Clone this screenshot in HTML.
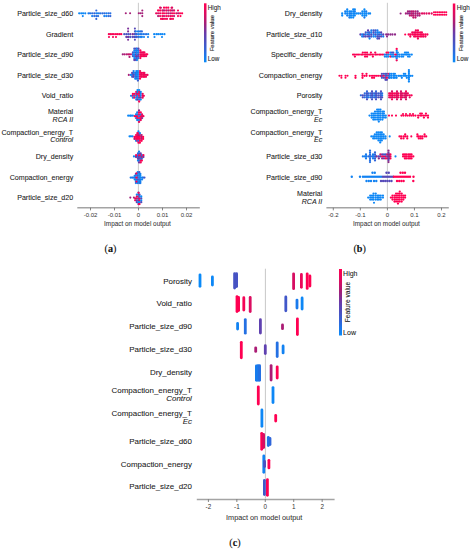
<!DOCTYPE html>
<html><head><meta charset="utf-8"><style>html,body{margin:0;padding:0;background:#fff;width:472px;height:550px;overflow:hidden}svg{display:block}</style></head>
<body><svg width="472" height="550" viewBox="0 0 472 550" font-family="Liberation Sans, sans-serif">
<defs><linearGradient id="cb" x1="0" y1="0" x2="0" y2="1"><stop offset="0.00" stop-color="#ff0052"/><stop offset="0.20" stop-color="#d70e62"/><stop offset="0.35" stop-color="#a0207a"/><stop offset="0.50" stop-color="#6a3aa8"/><stop offset="0.65" stop-color="#4a50c0"/><stop offset="0.80" stop-color="#3066da"/><stop offset="0.90" stop-color="#197aec"/><stop offset="1.00" stop-color="#0a8af8"/></linearGradient></defs>
<rect width="472" height="550" fill="#fff"/>
<text x="73.20" y="16.20" font-size="7.1" text-anchor="end" fill="#202020" stroke="#202020" stroke-width="0.07">Particle_size_d60</text>
<text x="73.20" y="36.64" font-size="7.1" text-anchor="end" fill="#202020" stroke="#202020" stroke-width="0.07">Gradient</text>
<text x="73.20" y="57.08" font-size="7.1" text-anchor="end" fill="#202020" stroke="#202020" stroke-width="0.07">Particle_size_d90</text>
<text x="73.20" y="77.52" font-size="7.1" text-anchor="end" fill="#202020" stroke="#202020" stroke-width="0.07">Particle_size_d30</text>
<text x="73.20" y="97.96" font-size="7.1" text-anchor="end" fill="#202020" stroke="#202020" stroke-width="0.07">Void_ratio</text>
<text x="73.20" y="114.10" font-size="7.1" text-anchor="end" fill="#202020" stroke="#202020" stroke-width="0.07">Material</text>
<text x="73.20" y="122.00" font-size="7.1" text-anchor="end" fill="#202020" stroke="#202020" stroke-width="0.07" font-style="italic">RCA II</text>
<text x="73.20" y="134.54" font-size="7.1" text-anchor="end" fill="#202020" stroke="#202020" stroke-width="0.07">Compaction_energy_T</text>
<text x="73.20" y="142.44" font-size="7.1" text-anchor="end" fill="#202020" stroke="#202020" stroke-width="0.07" font-style="italic">Control</text>
<text x="73.20" y="159.28" font-size="7.1" text-anchor="end" fill="#202020" stroke="#202020" stroke-width="0.07">Dry_density</text>
<text x="73.20" y="179.72" font-size="7.1" text-anchor="end" fill="#202020" stroke="#202020" stroke-width="0.07">Compaction_energy</text>
<text x="73.20" y="200.16" font-size="7.1" text-anchor="end" fill="#202020" stroke="#202020" stroke-width="0.07">Particle_size_d20</text>
<line x1="138.4" y1="2.8" x2="138.4" y2="207.5" stroke="#c4c4c4" stroke-width="0.9"/>
<line x1="77.3" y1="207.8" x2="199.8" y2="207.8" stroke="#a4a4a4" stroke-width="1.5"/>
<line x1="90.50" y1="207.8" x2="90.50" y2="210.4" stroke="#555" stroke-width="0.7"/>
<text x="90.50" y="216.70" font-size="6" text-anchor="middle" fill="#333">-0.02</text>
<line x1="114.50" y1="207.8" x2="114.50" y2="210.4" stroke="#555" stroke-width="0.7"/>
<text x="114.50" y="216.70" font-size="6" text-anchor="middle" fill="#333">-0.01</text>
<line x1="138.50" y1="207.8" x2="138.50" y2="210.4" stroke="#555" stroke-width="0.7"/>
<text x="138.50" y="216.70" font-size="6" text-anchor="middle" fill="#333">0</text>
<line x1="162.50" y1="207.8" x2="162.50" y2="210.4" stroke="#555" stroke-width="0.7"/>
<text x="162.50" y="216.70" font-size="6" text-anchor="middle" fill="#333">0.01</text>
<line x1="186.50" y1="207.8" x2="186.50" y2="210.4" stroke="#555" stroke-width="0.7"/>
<text x="186.50" y="216.70" font-size="6" text-anchor="middle" fill="#333">0.02</text>
<text x="137.50" y="226.20" font-size="6.4" text-anchor="middle" fill="#333" stroke="#333" stroke-width="0.05">Impact on model output</text>
<rect x="204" y="3.3" width="2.5" height="59.0" fill="url(#cb)"/>
<text x="207.80" y="9.60" font-size="6.3" text-anchor="start" fill="#202020" stroke="#202020" stroke-width="0.07">High</text>
<text x="207.80" y="61.20" font-size="6.3" text-anchor="start" fill="#202020" stroke="#202020" stroke-width="0.07">Low</text>
<text x="0" y="0" font-size="5.95" text-anchor="middle" fill="#222" stroke="#222" stroke-width="0.1" transform="translate(213.9,33.2) rotate(-90)">Feature value</text>
<circle cx="79.21" cy="13.30" r="1.15" fill="#0d87f6"/>
<circle cx="81.25" cy="13.30" r="1.15" fill="#0d87f6"/>
<circle cx="83.09" cy="13.30" r="1.15" fill="#0d87f6"/>
<circle cx="85.23" cy="13.30" r="1.15" fill="#0d87f6"/>
<circle cx="82.80" cy="16.10" r="1.05" fill="#0e85f4"/>
<circle cx="88.50" cy="13.30" r="1.15" fill="#187bed"/>
<circle cx="90.09" cy="13.30" r="1.15" fill="#2173e6"/>
<circle cx="92.17" cy="13.30" r="1.15" fill="#276ee1"/>
<circle cx="92.17" cy="16.10" r="1.15" fill="#1380f1"/>
<circle cx="94.33" cy="13.30" r="1.15" fill="#3760d3"/>
<circle cx="94.33" cy="16.10" r="1.15" fill="#2b6bde"/>
<circle cx="96.34" cy="13.30" r="1.15" fill="#1380f1"/>
<circle cx="96.34" cy="16.10" r="1.15" fill="#286de0"/>
<circle cx="98.07" cy="13.30" r="1.15" fill="#187bed"/>
<circle cx="98.07" cy="16.10" r="1.15" fill="#276ee1"/>
<circle cx="100.12" cy="13.30" r="1.15" fill="#2173e6"/>
<circle cx="102.32" cy="13.30" r="1.15" fill="#286de0"/>
<circle cx="104.33" cy="13.30" r="1.15" fill="#2d69dc"/>
<circle cx="104.33" cy="16.10" r="1.15" fill="#157ff0"/>
<circle cx="106.34" cy="13.30" r="1.15" fill="#177ced"/>
<circle cx="106.34" cy="16.10" r="1.15" fill="#147ff0"/>
<circle cx="108.41" cy="13.30" r="1.15" fill="#276de1"/>
<circle cx="108.41" cy="16.10" r="1.15" fill="#2a6bdf"/>
<circle cx="110.30" cy="13.30" r="1.15" fill="#266fe2"/>
<circle cx="110.30" cy="16.10" r="1.15" fill="#3165d9"/>
<circle cx="96.30" cy="10.50" r="1.05" fill="#3066da"/>
<circle cx="96.30" cy="18.90" r="1.05" fill="#3066da"/>
<circle cx="125.80" cy="13.30" r="1.05" fill="#a41f78"/>
<circle cx="130.10" cy="13.30" r="1.05" fill="#a41f78"/>
<circle cx="138.80" cy="13.30" r="1.05" fill="#a41f78"/>
<circle cx="140.50" cy="13.30" r="1.05" fill="#a41f78"/>
<circle cx="142.30" cy="13.30" r="1.05" fill="#a41f78"/>
<circle cx="142.30" cy="10.50" r="1.05" fill="#a41f78"/>
<circle cx="142.30" cy="16.10" r="1.05" fill="#a41f78"/>
<circle cx="156.18" cy="13.30" r="1.15" fill="#eb075a"/>
<circle cx="158.10" cy="13.30" r="1.15" fill="#d70e62"/>
<circle cx="158.10" cy="16.10" r="1.15" fill="#b21a72"/>
<circle cx="158.10" cy="10.50" r="1.15" fill="#ff0052"/>
<circle cx="160.10" cy="13.30" r="1.15" fill="#eb075a"/>
<circle cx="160.10" cy="10.50" r="1.15" fill="#ff0052"/>
<circle cx="160.10" cy="16.10" r="1.15" fill="#eb075a"/>
<circle cx="160.10" cy="7.70" r="1.15" fill="#ff0052"/>
<circle cx="162.44" cy="13.30" r="1.15" fill="#ff0052"/>
<circle cx="162.44" cy="16.10" r="1.15" fill="#ff0052"/>
<circle cx="162.44" cy="10.50" r="1.15" fill="#d70e62"/>
<circle cx="162.44" cy="18.90" r="1.15" fill="#eb075a"/>
<circle cx="164.03" cy="13.30" r="1.15" fill="#ff0052"/>
<circle cx="164.03" cy="10.50" r="1.15" fill="#b21a72"/>
<circle cx="164.03" cy="16.10" r="1.15" fill="#b21a72"/>
<circle cx="164.03" cy="7.70" r="1.15" fill="#ff0052"/>
<circle cx="166.24" cy="13.30" r="1.15" fill="#eb075a"/>
<circle cx="166.24" cy="10.50" r="1.15" fill="#eb075a"/>
<circle cx="166.24" cy="16.10" r="1.15" fill="#ff0052"/>
<circle cx="166.24" cy="7.70" r="1.15" fill="#ff0052"/>
<circle cx="168.24" cy="13.30" r="1.15" fill="#b21a72"/>
<circle cx="168.24" cy="10.50" r="1.15" fill="#b21a72"/>
<circle cx="168.24" cy="16.10" r="1.15" fill="#eb075a"/>
<circle cx="168.24" cy="7.70" r="1.15" fill="#ff0052"/>
<circle cx="170.30" cy="13.30" r="1.15" fill="#b21a72"/>
<circle cx="170.30" cy="16.10" r="1.15" fill="#eb075a"/>
<circle cx="170.30" cy="10.50" r="1.15" fill="#ff0052"/>
<circle cx="170.30" cy="18.90" r="1.15" fill="#ff0052"/>
<circle cx="172.09" cy="13.30" r="1.15" fill="#eb075a"/>
<circle cx="172.09" cy="10.50" r="1.15" fill="#b21a72"/>
<circle cx="172.09" cy="16.10" r="1.15" fill="#ff0052"/>
<circle cx="172.09" cy="7.70" r="1.15" fill="#eb075a"/>
<circle cx="174.03" cy="13.30" r="1.15" fill="#ff0052"/>
<circle cx="174.03" cy="16.10" r="1.15" fill="#b21a72"/>
<circle cx="174.03" cy="10.50" r="1.15" fill="#d70e62"/>
<circle cx="176.33" cy="13.30" r="1.15" fill="#d70e62"/>
<circle cx="178.15" cy="13.30" r="1.15" fill="#b21a72"/>
<circle cx="180.03" cy="13.30" r="1.15" fill="#ff0052"/>
<circle cx="182.09" cy="13.30" r="1.15" fill="#ff0052"/>
<circle cx="160.90" cy="7.70" r="1.05" fill="#c5146a"/>
<circle cx="171.50" cy="7.70" r="1.05" fill="#d70e62"/>
<circle cx="161.00" cy="18.90" r="1.05" fill="#ff0052"/>
<circle cx="163.00" cy="18.90" r="1.05" fill="#eb075a"/>
<circle cx="165.00" cy="18.90" r="1.05" fill="#ff0052"/>
<circle cx="167.00" cy="18.90" r="1.05" fill="#eb075a"/>
<circle cx="171.00" cy="18.90" r="1.05" fill="#eb075a"/>
<circle cx="173.00" cy="18.90" r="1.05" fill="#ff0052"/>
<circle cx="178.00" cy="10.50" r="1.05" fill="#ff0052"/>
<circle cx="178.00" cy="16.10" r="1.05" fill="#ff0052"/>
<circle cx="180.50" cy="16.10" r="1.05" fill="#ff0052"/>
<circle cx="108.89" cy="34.20" r="1.15" fill="#f30457"/>
<circle cx="110.34" cy="34.20" r="1.15" fill="#fa0254"/>
<circle cx="112.06" cy="34.20" r="1.15" fill="#f50456"/>
<circle cx="113.85" cy="34.20" r="1.15" fill="#f80255"/>
<circle cx="115.95" cy="34.20" r="1.15" fill="#fe0052"/>
<circle cx="117.80" cy="34.20" r="1.15" fill="#f70355"/>
<circle cx="119.69" cy="34.20" r="1.15" fill="#f70355"/>
<circle cx="121.25" cy="34.20" r="1.15" fill="#fa0254"/>
<circle cx="109.00" cy="37.00" r="1.05" fill="#f90254"/>
<circle cx="113.00" cy="37.00" r="1.05" fill="#f90254"/>
<circle cx="116.00" cy="37.00" r="1.05" fill="#f90254"/>
<circle cx="124.28" cy="34.20" r="1.15" fill="#4753c3"/>
<circle cx="126.35" cy="34.20" r="1.15" fill="#4f4dbc"/>
<circle cx="126.35" cy="37.00" r="1.15" fill="#6041b0"/>
<circle cx="128.28" cy="34.20" r="1.15" fill="#4157c9"/>
<circle cx="128.28" cy="37.00" r="1.15" fill="#4e4dbd"/>
<circle cx="130.30" cy="34.20" r="1.15" fill="#623fae"/>
<circle cx="130.30" cy="37.00" r="1.15" fill="#4356c7"/>
<circle cx="132.69" cy="34.20" r="1.15" fill="#852d91"/>
<circle cx="132.69" cy="37.00" r="1.15" fill="#4e4ebd"/>
<circle cx="134.38" cy="34.20" r="1.15" fill="#6140af"/>
<circle cx="134.38" cy="37.00" r="1.15" fill="#623fae"/>
<circle cx="136.31" cy="34.20" r="1.15" fill="#ac1c75"/>
<circle cx="136.31" cy="37.00" r="1.15" fill="#c4146a"/>
<circle cx="128.10" cy="28.60" r="1.05" fill="#7c3199"/>
<circle cx="128.10" cy="31.40" r="1.05" fill="#7c3199"/>
<circle cx="128.10" cy="37.00" r="1.05" fill="#7c3199"/>
<circle cx="128.10" cy="39.80" r="1.05" fill="#7c3199"/>
<circle cx="134.90" cy="28.60" r="1.05" fill="#5549b8"/>
<circle cx="134.90" cy="31.40" r="1.05" fill="#5549b8"/>
<circle cx="134.90" cy="37.00" r="1.05" fill="#5549b8"/>
<circle cx="134.90" cy="39.80" r="1.05" fill="#5549b8"/>
<circle cx="135.79" cy="34.20" r="1.15" fill="#2470e3"/>
<circle cx="135.79" cy="37.00" r="1.15" fill="#2470e3"/>
<circle cx="135.79" cy="31.40" r="1.15" fill="#187bed"/>
<circle cx="138.10" cy="34.20" r="1.15" fill="#1083f3"/>
<circle cx="138.10" cy="37.00" r="1.15" fill="#2e68dc"/>
<circle cx="138.10" cy="31.40" r="1.15" fill="#157eef"/>
<circle cx="140.10" cy="34.20" r="1.15" fill="#2570e3"/>
<circle cx="140.10" cy="37.00" r="1.15" fill="#1380f1"/>
<circle cx="140.10" cy="31.40" r="1.15" fill="#2074e7"/>
<circle cx="141.80" cy="34.20" r="1.15" fill="#1a79eb"/>
<circle cx="141.80" cy="31.40" r="1.15" fill="#2c6add"/>
<circle cx="141.80" cy="37.00" r="1.15" fill="#157fef"/>
<circle cx="143.86" cy="34.20" r="1.15" fill="#1f75e7"/>
<circle cx="146.06" cy="34.20" r="1.15" fill="#276ee1"/>
<circle cx="148.16" cy="34.20" r="1.15" fill="#1084f3"/>
<circle cx="144.00" cy="37.00" r="1.05" fill="#1282f2"/>
<circle cx="148.00" cy="37.00" r="1.05" fill="#1282f2"/>
<circle cx="154.20" cy="34.20" r="1.15" fill="#0d87f6"/>
<circle cx="156.44" cy="34.20" r="1.15" fill="#0d87f6"/>
<circle cx="158.19" cy="34.20" r="1.15" fill="#0d87f6"/>
<circle cx="160.30" cy="34.20" r="1.15" fill="#0d87f6"/>
<circle cx="162.17" cy="34.20" r="1.15" fill="#0d87f6"/>
<circle cx="164.43" cy="34.20" r="1.15" fill="#0d87f6"/>
<circle cx="154.50" cy="37.00" r="1.05" fill="#0d87f6"/>
<circle cx="162.00" cy="37.00" r="1.05" fill="#0d87f6"/>
<circle cx="122.79" cy="54.30" r="1.15" fill="#9e217b"/>
<circle cx="124.65" cy="54.30" r="1.15" fill="#b11a73"/>
<circle cx="126.84" cy="54.30" r="1.15" fill="#b11a73"/>
<circle cx="128.48" cy="54.30" r="1.15" fill="#cb1267"/>
<circle cx="130.01" cy="54.30" r="1.15" fill="#c71369"/>
<circle cx="132.13" cy="54.30" r="1.15" fill="#cf1166"/>
<circle cx="129.50" cy="56.90" r="1.05" fill="#ab1c75"/>
<circle cx="132.96" cy="54.30" r="1.15" fill="#0a8af8"/>
<circle cx="132.96" cy="52.40" r="1.15" fill="#4157c9"/>
<circle cx="132.96" cy="56.20" r="1.15" fill="#4157c9"/>
<circle cx="134.34" cy="54.30" r="1.15" fill="#1282f2"/>
<circle cx="134.34" cy="56.20" r="1.15" fill="#1282f2"/>
<circle cx="134.34" cy="52.40" r="1.15" fill="#1282f2"/>
<circle cx="134.34" cy="58.10" r="1.15" fill="#0a8af8"/>
<circle cx="134.34" cy="50.50" r="1.15" fill="#1282f2"/>
<circle cx="134.34" cy="60.00" r="1.15" fill="#5f41b0"/>
<circle cx="134.34" cy="48.60" r="1.15" fill="#4157c9"/>
<circle cx="135.98" cy="54.30" r="1.15" fill="#5f41b0"/>
<circle cx="135.98" cy="56.20" r="1.15" fill="#5f41b0"/>
<circle cx="135.98" cy="52.40" r="1.15" fill="#4157c9"/>
<circle cx="135.98" cy="58.10" r="1.15" fill="#197aec"/>
<circle cx="135.98" cy="50.50" r="1.15" fill="#1282f2"/>
<circle cx="135.98" cy="60.00" r="1.15" fill="#5f41b0"/>
<circle cx="135.98" cy="48.60" r="1.15" fill="#5f41b0"/>
<circle cx="136.98" cy="54.30" r="1.15" fill="#0a8af8"/>
<circle cx="136.98" cy="56.20" r="1.15" fill="#5f41b0"/>
<circle cx="136.98" cy="52.40" r="1.15" fill="#1282f2"/>
<circle cx="136.98" cy="58.10" r="1.15" fill="#4157c9"/>
<circle cx="136.98" cy="50.50" r="1.15" fill="#1282f2"/>
<circle cx="136.98" cy="60.00" r="1.15" fill="#1282f2"/>
<circle cx="136.98" cy="48.60" r="1.15" fill="#0a8af8"/>
<circle cx="138.45" cy="54.30" r="1.15" fill="#5f41b0"/>
<circle cx="138.45" cy="52.40" r="1.15" fill="#1282f2"/>
<circle cx="138.45" cy="56.20" r="1.15" fill="#5f41b0"/>
<circle cx="138.45" cy="50.50" r="1.15" fill="#197aec"/>
<circle cx="138.45" cy="58.10" r="1.15" fill="#197aec"/>
<circle cx="138.45" cy="48.60" r="1.15" fill="#5f41b0"/>
<circle cx="140.35" cy="54.30" r="1.15" fill="#e8085b"/>
<circle cx="140.35" cy="56.20" r="1.15" fill="#f90254"/>
<circle cx="140.35" cy="52.40" r="1.15" fill="#fd0153"/>
<circle cx="140.35" cy="58.10" r="1.15" fill="#f70355"/>
<circle cx="140.35" cy="50.50" r="1.15" fill="#fb0254"/>
<circle cx="141.81" cy="54.30" r="1.15" fill="#f40456"/>
<circle cx="141.81" cy="56.20" r="1.15" fill="#f40457"/>
<circle cx="141.81" cy="52.40" r="1.15" fill="#e7085b"/>
<circle cx="143.16" cy="54.30" r="1.15" fill="#f60356"/>
<circle cx="143.16" cy="56.20" r="1.15" fill="#fa0254"/>
<circle cx="143.16" cy="52.40" r="1.15" fill="#eb075a"/>
<circle cx="144.38" cy="54.30" r="1.15" fill="#f40456"/>
<circle cx="144.38" cy="56.20" r="1.15" fill="#ef0658"/>
<circle cx="144.38" cy="52.40" r="1.15" fill="#f30457"/>
<circle cx="146.03" cy="54.30" r="1.15" fill="#fc0153"/>
<circle cx="146.03" cy="56.20" r="1.15" fill="#e8085b"/>
<circle cx="147.21" cy="54.30" r="1.15" fill="#fa0254"/>
<circle cx="128.80" cy="74.90" r="1.05" fill="#b21a72"/>
<circle cx="130.80" cy="74.90" r="1.15" fill="#0a8af8"/>
<circle cx="132.17" cy="74.90" r="1.15" fill="#197aec"/>
<circle cx="132.17" cy="76.80" r="1.15" fill="#395fd1"/>
<circle cx="132.17" cy="73.00" r="1.15" fill="#6a3aa8"/>
<circle cx="133.62" cy="74.90" r="1.15" fill="#6a3aa8"/>
<circle cx="133.62" cy="73.00" r="1.15" fill="#1282f2"/>
<circle cx="133.62" cy="76.80" r="1.15" fill="#6a3aa8"/>
<circle cx="133.62" cy="71.10" r="1.15" fill="#197aec"/>
<circle cx="135.25" cy="74.90" r="1.15" fill="#395fd1"/>
<circle cx="135.25" cy="76.80" r="1.15" fill="#1282f2"/>
<circle cx="135.25" cy="73.00" r="1.15" fill="#395fd1"/>
<circle cx="135.25" cy="78.70" r="1.15" fill="#0a8af8"/>
<circle cx="136.34" cy="74.90" r="1.15" fill="#0a8af8"/>
<circle cx="136.34" cy="73.00" r="1.15" fill="#1282f2"/>
<circle cx="136.34" cy="76.80" r="1.15" fill="#395fd1"/>
<circle cx="136.34" cy="71.10" r="1.15" fill="#0a8af8"/>
<circle cx="136.34" cy="78.70" r="1.15" fill="#1282f2"/>
<circle cx="137.90" cy="74.90" r="1.15" fill="#1282f2"/>
<circle cx="137.90" cy="76.80" r="1.15" fill="#197aec"/>
<circle cx="137.90" cy="73.00" r="1.15" fill="#1282f2"/>
<circle cx="137.90" cy="78.70" r="1.15" fill="#197aec"/>
<circle cx="137.90" cy="71.10" r="1.15" fill="#1282f2"/>
<circle cx="137.90" cy="80.60" r="1.15" fill="#395fd1"/>
<circle cx="140.03" cy="74.90" r="1.15" fill="#f10558"/>
<circle cx="140.03" cy="76.80" r="1.15" fill="#f30457"/>
<circle cx="140.03" cy="73.00" r="1.15" fill="#ff0052"/>
<circle cx="140.03" cy="78.70" r="1.15" fill="#fb0154"/>
<circle cx="140.03" cy="71.10" r="1.15" fill="#eb075a"/>
<circle cx="141.56" cy="74.90" r="1.15" fill="#ef0658"/>
<circle cx="141.56" cy="73.00" r="1.15" fill="#ec075a"/>
<circle cx="141.56" cy="76.80" r="1.15" fill="#ef0659"/>
<circle cx="143.13" cy="74.90" r="1.15" fill="#ef0658"/>
<circle cx="143.13" cy="76.80" r="1.15" fill="#f20557"/>
<circle cx="143.13" cy="73.00" r="1.15" fill="#f80255"/>
<circle cx="144.33" cy="74.90" r="1.15" fill="#f30457"/>
<circle cx="144.33" cy="73.00" r="1.15" fill="#e9085b"/>
<circle cx="144.33" cy="76.80" r="1.15" fill="#ff0052"/>
<circle cx="145.97" cy="74.90" r="1.15" fill="#e9085b"/>
<circle cx="145.97" cy="76.80" r="1.15" fill="#ee0659"/>
<circle cx="147.44" cy="74.90" r="1.15" fill="#ed0659"/>
<circle cx="131.08" cy="95.80" r="1.15" fill="#1282f2"/>
<circle cx="132.89" cy="95.80" r="1.15" fill="#ff0052"/>
<circle cx="132.89" cy="93.90" r="1.15" fill="#ff0052"/>
<circle cx="132.89" cy="97.70" r="1.15" fill="#1282f2"/>
<circle cx="134.35" cy="95.80" r="1.15" fill="#1282f2"/>
<circle cx="134.35" cy="93.90" r="1.15" fill="#ff0052"/>
<circle cx="134.35" cy="97.70" r="1.15" fill="#ff0052"/>
<circle cx="136.27" cy="95.80" r="1.15" fill="#eb075a"/>
<circle cx="136.27" cy="97.70" r="1.15" fill="#0a8af8"/>
<circle cx="136.27" cy="93.90" r="1.15" fill="#6a3aa8"/>
<circle cx="136.27" cy="99.60" r="1.15" fill="#0a8af8"/>
<circle cx="136.27" cy="92.00" r="1.15" fill="#ff0052"/>
<circle cx="137.55" cy="95.80" r="1.15" fill="#0a8af8"/>
<circle cx="137.55" cy="93.90" r="1.15" fill="#ff0052"/>
<circle cx="137.55" cy="97.70" r="1.15" fill="#1282f2"/>
<circle cx="137.55" cy="92.00" r="1.15" fill="#0a8af8"/>
<circle cx="137.55" cy="99.60" r="1.15" fill="#6a3aa8"/>
<circle cx="137.55" cy="90.10" r="1.15" fill="#0a8af8"/>
<circle cx="139.17" cy="95.80" r="1.15" fill="#ff0052"/>
<circle cx="139.17" cy="93.90" r="1.15" fill="#eb075a"/>
<circle cx="139.17" cy="97.70" r="1.15" fill="#6a3aa8"/>
<circle cx="139.17" cy="92.00" r="1.15" fill="#ff0052"/>
<circle cx="139.17" cy="99.60" r="1.15" fill="#1282f2"/>
<circle cx="139.17" cy="90.10" r="1.15" fill="#0a8af8"/>
<circle cx="139.17" cy="101.50" r="1.15" fill="#ff0052"/>
<circle cx="140.73" cy="95.80" r="1.15" fill="#1282f2"/>
<circle cx="140.73" cy="97.70" r="1.15" fill="#6a3aa8"/>
<circle cx="140.73" cy="93.90" r="1.15" fill="#0a8af8"/>
<circle cx="140.73" cy="99.60" r="1.15" fill="#1282f2"/>
<circle cx="140.73" cy="92.00" r="1.15" fill="#1282f2"/>
<circle cx="142.66" cy="95.80" r="1.15" fill="#ff0052"/>
<circle cx="142.66" cy="93.90" r="1.15" fill="#eb075a"/>
<circle cx="142.66" cy="97.70" r="1.15" fill="#eb075a"/>
<circle cx="143.80" cy="95.80" r="1.15" fill="#eb075a"/>
<circle cx="128.22" cy="115.70" r="1.15" fill="#0d87f6"/>
<circle cx="130.05" cy="115.70" r="1.15" fill="#0d87f6"/>
<circle cx="131.06" cy="115.70" r="1.15" fill="#0d87f6"/>
<circle cx="132.81" cy="115.70" r="1.15" fill="#0d87f6"/>
<circle cx="134.76" cy="116.20" r="1.15" fill="#ff0052"/>
<circle cx="135.99" cy="116.20" r="1.15" fill="#eb075a"/>
<circle cx="135.99" cy="114.30" r="1.15" fill="#1282f2"/>
<circle cx="135.99" cy="118.10" r="1.15" fill="#1282f2"/>
<circle cx="137.21" cy="116.20" r="1.15" fill="#ff0052"/>
<circle cx="137.21" cy="118.10" r="1.15" fill="#eb075a"/>
<circle cx="137.21" cy="114.30" r="1.15" fill="#1282f2"/>
<circle cx="137.21" cy="120.00" r="1.15" fill="#1282f2"/>
<circle cx="137.21" cy="112.40" r="1.15" fill="#1282f2"/>
<circle cx="139.04" cy="116.20" r="1.15" fill="#1282f2"/>
<circle cx="139.04" cy="114.30" r="1.15" fill="#ff0052"/>
<circle cx="139.04" cy="118.10" r="1.15" fill="#ff0052"/>
<circle cx="139.04" cy="112.40" r="1.15" fill="#ff0052"/>
<circle cx="139.04" cy="120.00" r="1.15" fill="#1282f2"/>
<circle cx="139.04" cy="110.50" r="1.15" fill="#8e2989"/>
<circle cx="139.04" cy="121.90" r="1.15" fill="#eb075a"/>
<circle cx="140.76" cy="116.20" r="1.15" fill="#ff0052"/>
<circle cx="140.76" cy="114.30" r="1.15" fill="#1282f2"/>
<circle cx="140.76" cy="118.10" r="1.15" fill="#ff0052"/>
<circle cx="140.76" cy="112.40" r="1.15" fill="#ff0052"/>
<circle cx="140.76" cy="120.00" r="1.15" fill="#eb075a"/>
<circle cx="142.07" cy="116.20" r="1.15" fill="#eb075a"/>
<circle cx="142.07" cy="114.30" r="1.15" fill="#eb075a"/>
<circle cx="142.07" cy="118.10" r="1.15" fill="#8e2989"/>
<circle cx="143.39" cy="116.20" r="1.15" fill="#eb075a"/>
<circle cx="129.56" cy="136.30" r="1.15" fill="#0d87f6"/>
<circle cx="130.95" cy="136.30" r="1.15" fill="#0d87f6"/>
<circle cx="132.49" cy="136.30" r="1.15" fill="#0d87f6"/>
<circle cx="134.50" cy="137.00" r="1.15" fill="#ff0052"/>
<circle cx="134.50" cy="138.90" r="1.15" fill="#b21a72"/>
<circle cx="136.07" cy="137.00" r="1.15" fill="#eb075a"/>
<circle cx="136.07" cy="138.90" r="1.15" fill="#ff0052"/>
<circle cx="136.07" cy="135.10" r="1.15" fill="#ff0052"/>
<circle cx="136.07" cy="140.80" r="1.15" fill="#1282f2"/>
<circle cx="137.35" cy="137.00" r="1.15" fill="#ff0052"/>
<circle cx="137.35" cy="135.10" r="1.15" fill="#eb075a"/>
<circle cx="137.35" cy="138.90" r="1.15" fill="#eb075a"/>
<circle cx="137.35" cy="133.20" r="1.15" fill="#ff0052"/>
<circle cx="137.35" cy="140.80" r="1.15" fill="#ff0052"/>
<circle cx="138.45" cy="137.00" r="1.15" fill="#ff0052"/>
<circle cx="138.45" cy="138.90" r="1.15" fill="#ff0052"/>
<circle cx="138.45" cy="135.10" r="1.15" fill="#b21a72"/>
<circle cx="138.45" cy="140.80" r="1.15" fill="#1282f2"/>
<circle cx="138.45" cy="133.20" r="1.15" fill="#eb075a"/>
<circle cx="138.45" cy="142.70" r="1.15" fill="#ff0052"/>
<circle cx="138.45" cy="131.30" r="1.15" fill="#1282f2"/>
<circle cx="139.89" cy="137.00" r="1.15" fill="#ff0052"/>
<circle cx="139.89" cy="138.90" r="1.15" fill="#ff0052"/>
<circle cx="139.89" cy="135.10" r="1.15" fill="#b21a72"/>
<circle cx="139.89" cy="140.80" r="1.15" fill="#ff0052"/>
<circle cx="139.89" cy="133.20" r="1.15" fill="#1282f2"/>
<circle cx="139.89" cy="142.70" r="1.15" fill="#ff0052"/>
<circle cx="141.62" cy="137.00" r="1.15" fill="#b21a72"/>
<circle cx="141.62" cy="138.90" r="1.15" fill="#b21a72"/>
<circle cx="141.62" cy="135.10" r="1.15" fill="#b21a72"/>
<circle cx="141.62" cy="140.80" r="1.15" fill="#ff0052"/>
<circle cx="143.10" cy="137.00" r="1.15" fill="#ff0052"/>
<circle cx="143.10" cy="138.90" r="1.15" fill="#ff0052"/>
<circle cx="133.90" cy="156.40" r="1.05" fill="#1282f2"/>
<circle cx="135.60" cy="156.40" r="1.05" fill="#1282f2"/>
<circle cx="136.13" cy="157.00" r="1.15" fill="#6a3aa8"/>
<circle cx="136.13" cy="155.19" r="1.15" fill="#ff0052"/>
<circle cx="138.00" cy="157.00" r="1.15" fill="#3066da"/>
<circle cx="138.00" cy="158.81" r="1.15" fill="#6a3aa8"/>
<circle cx="138.00" cy="155.19" r="1.15" fill="#3066da"/>
<circle cx="138.00" cy="160.61" r="1.15" fill="#1282f2"/>
<circle cx="138.00" cy="153.39" r="1.15" fill="#3066da"/>
<circle cx="139.05" cy="157.00" r="1.15" fill="#6a3aa8"/>
<circle cx="139.05" cy="155.19" r="1.15" fill="#ff0052"/>
<circle cx="139.05" cy="158.81" r="1.15" fill="#6a3aa8"/>
<circle cx="139.05" cy="153.39" r="1.15" fill="#3066da"/>
<circle cx="139.05" cy="160.61" r="1.15" fill="#1282f2"/>
<circle cx="139.05" cy="151.59" r="1.15" fill="#1282f2"/>
<circle cx="139.05" cy="162.41" r="1.15" fill="#6a3aa8"/>
<circle cx="140.70" cy="157.00" r="1.15" fill="#3066da"/>
<circle cx="140.70" cy="158.81" r="1.15" fill="#3066da"/>
<circle cx="140.70" cy="155.19" r="1.15" fill="#ff0052"/>
<circle cx="140.70" cy="160.61" r="1.15" fill="#eb075a"/>
<circle cx="140.70" cy="153.39" r="1.15" fill="#6a3aa8"/>
<circle cx="140.70" cy="162.41" r="1.15" fill="#eb075a"/>
<circle cx="141.84" cy="157.00" r="1.15" fill="#b21a72"/>
<circle cx="141.84" cy="158.81" r="1.15" fill="#3066da"/>
<circle cx="141.84" cy="155.19" r="1.15" fill="#3066da"/>
<circle cx="141.84" cy="160.61" r="1.15" fill="#ff0052"/>
<circle cx="143.40" cy="157.00" r="1.15" fill="#6a3aa8"/>
<circle cx="143.40" cy="155.19" r="1.15" fill="#ff0052"/>
<circle cx="130.71" cy="177.60" r="1.15" fill="#197aec"/>
<circle cx="132.13" cy="177.60" r="1.15" fill="#197aec"/>
<circle cx="133.29" cy="177.60" r="1.15" fill="#197aec"/>
<circle cx="134.70" cy="177.60" r="1.15" fill="#1282f2"/>
<circle cx="134.70" cy="175.79" r="1.15" fill="#1282f2"/>
<circle cx="134.70" cy="179.41" r="1.15" fill="#1282f2"/>
<circle cx="135.91" cy="177.60" r="1.15" fill="#4157c9"/>
<circle cx="135.91" cy="179.41" r="1.15" fill="#197aec"/>
<circle cx="135.91" cy="175.79" r="1.15" fill="#0a8af8"/>
<circle cx="135.91" cy="181.21" r="1.15" fill="#1282f2"/>
<circle cx="135.91" cy="173.99" r="1.15" fill="#4157c9"/>
<circle cx="135.91" cy="183.01" r="1.15" fill="#197aec"/>
<circle cx="137.73" cy="177.60" r="1.15" fill="#4157c9"/>
<circle cx="137.73" cy="175.79" r="1.15" fill="#4157c9"/>
<circle cx="137.73" cy="179.41" r="1.15" fill="#4157c9"/>
<circle cx="137.73" cy="173.99" r="1.15" fill="#0a8af8"/>
<circle cx="137.73" cy="181.21" r="1.15" fill="#1282f2"/>
<circle cx="137.73" cy="172.19" r="1.15" fill="#1282f2"/>
<circle cx="137.73" cy="183.01" r="1.15" fill="#197aec"/>
<circle cx="139.29" cy="177.60" r="1.15" fill="#0a8af8"/>
<circle cx="139.29" cy="175.79" r="1.15" fill="#197aec"/>
<circle cx="139.29" cy="179.41" r="1.15" fill="#4157c9"/>
<circle cx="139.29" cy="173.99" r="1.15" fill="#0a8af8"/>
<circle cx="139.29" cy="181.21" r="1.15" fill="#1282f2"/>
<circle cx="139.29" cy="172.19" r="1.15" fill="#4157c9"/>
<circle cx="139.29" cy="183.01" r="1.15" fill="#197aec"/>
<circle cx="140.33" cy="177.60" r="1.15" fill="#0a8af8"/>
<circle cx="140.33" cy="179.41" r="1.15" fill="#1282f2"/>
<circle cx="140.33" cy="175.79" r="1.15" fill="#0a8af8"/>
<circle cx="140.33" cy="181.21" r="1.15" fill="#1282f2"/>
<circle cx="140.33" cy="173.99" r="1.15" fill="#1282f2"/>
<circle cx="140.33" cy="183.01" r="1.15" fill="#197aec"/>
<circle cx="142.07" cy="177.60" r="1.15" fill="#1282f2"/>
<circle cx="142.07" cy="179.41" r="1.15" fill="#1282f2"/>
<circle cx="143.07" cy="177.60" r="1.15" fill="#197aec"/>
<circle cx="144.44" cy="177.60" r="1.15" fill="#4157c9"/>
<circle cx="136.50" cy="173.40" r="1.05" fill="#ff0052"/>
<circle cx="136.50" cy="177.60" r="1.05" fill="#ff0052"/>
<circle cx="136.50" cy="181.60" r="1.05" fill="#ff0052"/>
<circle cx="130.30" cy="197.60" r="1.05" fill="#a0207a"/>
<circle cx="133.90" cy="197.60" r="1.05" fill="#a0207a"/>
<circle cx="135.21" cy="198.40" r="1.15" fill="#eb075a"/>
<circle cx="135.21" cy="200.30" r="1.15" fill="#eb075a"/>
<circle cx="136.84" cy="198.40" r="1.15" fill="#eb075a"/>
<circle cx="136.84" cy="200.30" r="1.15" fill="#5549b8"/>
<circle cx="136.84" cy="196.50" r="1.15" fill="#eb075a"/>
<circle cx="136.84" cy="202.20" r="1.15" fill="#5549b8"/>
<circle cx="136.84" cy="194.60" r="1.15" fill="#0a8af8"/>
<circle cx="138.50" cy="198.40" r="1.15" fill="#5549b8"/>
<circle cx="138.50" cy="200.30" r="1.15" fill="#5549b8"/>
<circle cx="138.50" cy="196.50" r="1.15" fill="#eb075a"/>
<circle cx="138.50" cy="202.20" r="1.15" fill="#0a8af8"/>
<circle cx="138.50" cy="194.60" r="1.15" fill="#1282f2"/>
<circle cx="138.50" cy="204.10" r="1.15" fill="#0a8af8"/>
<circle cx="138.50" cy="192.70" r="1.15" fill="#5549b8"/>
<circle cx="139.55" cy="198.40" r="1.15" fill="#eb075a"/>
<circle cx="139.55" cy="200.30" r="1.15" fill="#eb075a"/>
<circle cx="139.55" cy="196.50" r="1.15" fill="#197aec"/>
<circle cx="139.55" cy="202.20" r="1.15" fill="#0a8af8"/>
<circle cx="139.55" cy="194.60" r="1.15" fill="#5549b8"/>
<circle cx="139.55" cy="204.10" r="1.15" fill="#eb075a"/>
<circle cx="141.25" cy="198.40" r="1.15" fill="#5549b8"/>
<circle cx="141.25" cy="200.30" r="1.15" fill="#0a8af8"/>
<circle cx="141.25" cy="196.50" r="1.15" fill="#0a8af8"/>
<circle cx="141.25" cy="202.20" r="1.15" fill="#5549b8"/>
<circle cx="138.60" cy="192.70" r="1.05" fill="#ff0052"/>
<circle cx="138.60" cy="204.10" r="1.05" fill="#ff0052"/>
<text x="110.50" y="251.60" font-size="10.2" text-anchor="middle" fill="#111" stroke="#111" stroke-width="0.12" font-family="Liberation Serif">(<tspan font-weight="bold">a</tspan>)</text>
<text x="322.30" y="16.20" font-size="7.1" text-anchor="end" fill="#202020" stroke="#202020" stroke-width="0.07">Dry_density</text>
<text x="322.30" y="36.64" font-size="7.1" text-anchor="end" fill="#202020" stroke="#202020" stroke-width="0.07">Particle_size_d10</text>
<text x="322.30" y="57.08" font-size="7.1" text-anchor="end" fill="#202020" stroke="#202020" stroke-width="0.07">Specific_density</text>
<text x="322.30" y="77.52" font-size="7.1" text-anchor="end" fill="#202020" stroke="#202020" stroke-width="0.07">Compaction_energy</text>
<text x="322.30" y="97.96" font-size="7.1" text-anchor="end" fill="#202020" stroke="#202020" stroke-width="0.07">Porosity</text>
<text x="322.30" y="114.10" font-size="7.1" text-anchor="end" fill="#202020" stroke="#202020" stroke-width="0.07">Compaction_energy_T</text>
<text x="322.30" y="122.00" font-size="7.1" text-anchor="end" fill="#202020" stroke="#202020" stroke-width="0.07" font-style="italic">Ec</text>
<text x="322.30" y="134.54" font-size="7.1" text-anchor="end" fill="#202020" stroke="#202020" stroke-width="0.07">Compaction_energy_T</text>
<text x="322.30" y="142.44" font-size="7.1" text-anchor="end" fill="#202020" stroke="#202020" stroke-width="0.07" font-style="italic">Ec</text>
<text x="322.30" y="159.28" font-size="7.1" text-anchor="end" fill="#202020" stroke="#202020" stroke-width="0.07">Particle_size_d30</text>
<text x="322.30" y="179.72" font-size="7.1" text-anchor="end" fill="#202020" stroke="#202020" stroke-width="0.07">Particle_size_d90</text>
<text x="322.30" y="195.86" font-size="7.1" text-anchor="end" fill="#202020" stroke="#202020" stroke-width="0.07">Material</text>
<text x="322.30" y="203.76" font-size="7.1" text-anchor="end" fill="#202020" stroke="#202020" stroke-width="0.07" font-style="italic">RCA II</text>
<line x1="387.4" y1="2.8" x2="387.4" y2="207.5" stroke="#c4c4c4" stroke-width="0.9"/>
<line x1="326.4" y1="207.8" x2="448.8" y2="207.8" stroke="#a4a4a4" stroke-width="1.5"/>
<line x1="333.30" y1="207.8" x2="333.30" y2="210.4" stroke="#555" stroke-width="0.7"/>
<text x="333.30" y="216.70" font-size="6" text-anchor="middle" fill="#333">-0.2</text>
<line x1="360.35" y1="207.8" x2="360.35" y2="210.4" stroke="#555" stroke-width="0.7"/>
<text x="360.35" y="216.70" font-size="6" text-anchor="middle" fill="#333">-0.1</text>
<line x1="387.40" y1="207.8" x2="387.40" y2="210.4" stroke="#555" stroke-width="0.7"/>
<text x="387.40" y="216.70" font-size="6" text-anchor="middle" fill="#333">0</text>
<line x1="414.45" y1="207.8" x2="414.45" y2="210.4" stroke="#555" stroke-width="0.7"/>
<text x="414.45" y="216.70" font-size="6" text-anchor="middle" fill="#333">0.1</text>
<line x1="441.50" y1="207.8" x2="441.50" y2="210.4" stroke="#555" stroke-width="0.7"/>
<text x="441.50" y="216.70" font-size="6" text-anchor="middle" fill="#333">0.2</text>
<text x="386.40" y="226.20" font-size="6.4" text-anchor="middle" fill="#333" stroke="#333" stroke-width="0.05">Impact on model output</text>
<rect x="452.8" y="3.5" width="2.5" height="58.8" fill="url(#cb)"/>
<text x="456.80" y="9.60" font-size="6.3" text-anchor="start" fill="#202020" stroke="#202020" stroke-width="0.07">High</text>
<text x="456.80" y="61.20" font-size="6.3" text-anchor="start" fill="#202020" stroke="#202020" stroke-width="0.07">Low</text>
<text x="0" y="0" font-size="5.95" text-anchor="middle" fill="#222" stroke="#222" stroke-width="0.1" transform="translate(462.9,33.2) rotate(-90)">Feature value</text>
<circle cx="342.20" cy="13.50" r="1.15" fill="#0d87f6"/>
<circle cx="342.20" cy="15.50" r="1.15" fill="#0d87f6"/>
<circle cx="345.27" cy="13.50" r="1.15" fill="#0d87f6"/>
<circle cx="345.27" cy="11.50" r="1.15" fill="#167dee"/>
<circle cx="347.21" cy="13.50" r="1.15" fill="#0d87f6"/>
<circle cx="347.21" cy="11.50" r="1.15" fill="#0a8af8"/>
<circle cx="347.21" cy="15.50" r="1.15" fill="#167dee"/>
<circle cx="347.21" cy="9.50" r="1.15" fill="#0d87f6"/>
<circle cx="349.41" cy="13.50" r="1.15" fill="#167dee"/>
<circle cx="349.41" cy="15.50" r="1.15" fill="#0a8af8"/>
<circle cx="349.41" cy="11.50" r="1.15" fill="#0a8af8"/>
<circle cx="349.41" cy="17.50" r="1.15" fill="#167dee"/>
<circle cx="351.06" cy="13.50" r="1.15" fill="#167dee"/>
<circle cx="351.06" cy="15.50" r="1.15" fill="#0d87f6"/>
<circle cx="351.06" cy="11.50" r="1.15" fill="#0d87f6"/>
<circle cx="351.06" cy="17.50" r="1.15" fill="#0a8af8"/>
<circle cx="353.21" cy="13.50" r="1.15" fill="#0a8af8"/>
<circle cx="353.21" cy="15.50" r="1.15" fill="#0d87f6"/>
<circle cx="353.21" cy="11.50" r="1.15" fill="#0d87f6"/>
<circle cx="353.21" cy="17.50" r="1.15" fill="#0d87f6"/>
<circle cx="353.21" cy="9.50" r="1.15" fill="#0d87f6"/>
<circle cx="354.80" cy="13.50" r="1.15" fill="#0d87f6"/>
<circle cx="354.80" cy="11.50" r="1.15" fill="#167dee"/>
<circle cx="354.80" cy="15.50" r="1.15" fill="#0a8af8"/>
<circle cx="354.80" cy="9.50" r="1.15" fill="#0d87f6"/>
<circle cx="356.79" cy="13.50" r="1.15" fill="#0a8af8"/>
<circle cx="358.53" cy="13.50" r="1.15" fill="#0a8af8"/>
<circle cx="360.45" cy="13.50" r="1.15" fill="#167dee"/>
<circle cx="362.36" cy="13.50" r="1.15" fill="#0d87f6"/>
<circle cx="362.36" cy="11.50" r="1.15" fill="#0d87f6"/>
<circle cx="362.36" cy="15.50" r="1.15" fill="#0a8af8"/>
<circle cx="364.42" cy="13.50" r="1.15" fill="#0a8af8"/>
<circle cx="364.42" cy="15.50" r="1.15" fill="#0a8af8"/>
<circle cx="364.42" cy="11.50" r="1.15" fill="#0d87f6"/>
<circle cx="364.42" cy="17.50" r="1.15" fill="#167dee"/>
<circle cx="364.42" cy="9.50" r="1.15" fill="#0a8af8"/>
<circle cx="366.21" cy="13.50" r="1.15" fill="#0d87f6"/>
<circle cx="366.21" cy="11.50" r="1.15" fill="#167dee"/>
<circle cx="366.21" cy="15.50" r="1.15" fill="#0a8af8"/>
<circle cx="368.39" cy="13.50" r="1.15" fill="#0d87f6"/>
<circle cx="370.06" cy="13.50" r="1.15" fill="#0d87f6"/>
<circle cx="400.60" cy="13.50" r="1.05" fill="#952583"/>
<circle cx="405.89" cy="13.50" r="1.15" fill="#a51e78"/>
<circle cx="407.94" cy="13.50" r="1.15" fill="#8f2889"/>
<circle cx="407.94" cy="11.50" r="1.15" fill="#a61e78"/>
<circle cx="409.86" cy="13.50" r="1.15" fill="#8c298b"/>
<circle cx="409.86" cy="15.50" r="1.15" fill="#be166d"/>
<circle cx="409.86" cy="11.50" r="1.15" fill="#9e217b"/>
<circle cx="411.77" cy="13.50" r="1.15" fill="#c2156b"/>
<circle cx="411.77" cy="11.50" r="1.15" fill="#bb176e"/>
<circle cx="411.77" cy="15.50" r="1.15" fill="#bd176d"/>
<circle cx="413.36" cy="13.50" r="1.15" fill="#a1207a"/>
<circle cx="413.36" cy="15.50" r="1.15" fill="#b61970"/>
<circle cx="413.36" cy="11.50" r="1.15" fill="#b8186f"/>
<circle cx="413.36" cy="17.50" r="1.15" fill="#c3156b"/>
<circle cx="415.49" cy="13.50" r="1.15" fill="#9f217b"/>
<circle cx="415.49" cy="15.50" r="1.15" fill="#c0156c"/>
<circle cx="415.49" cy="11.50" r="1.15" fill="#ba186f"/>
<circle cx="415.49" cy="17.50" r="1.15" fill="#bc176e"/>
<circle cx="417.64" cy="13.50" r="1.15" fill="#b71870"/>
<circle cx="417.64" cy="15.50" r="1.15" fill="#942684"/>
<circle cx="417.64" cy="11.50" r="1.15" fill="#902888"/>
<circle cx="419.54" cy="13.50" r="1.15" fill="#c1156c"/>
<circle cx="419.54" cy="15.50" r="1.15" fill="#b31a72"/>
<circle cx="422.07" cy="13.50" r="1.15" fill="#e10b5e"/>
<circle cx="424.19" cy="13.50" r="1.15" fill="#e10b5e"/>
<circle cx="426.55" cy="13.50" r="1.15" fill="#e10b5e"/>
<circle cx="429.07" cy="13.50" r="1.15" fill="#e10b5e"/>
<circle cx="431.67" cy="13.50" r="1.15" fill="#e10b5e"/>
<circle cx="434.00" cy="12.30" r="1.05" fill="#ff0052"/>
<circle cx="434.00" cy="14.80" r="1.05" fill="#ff0052"/>
<circle cx="435.75" cy="12.30" r="1.05" fill="#ff0052"/>
<circle cx="435.75" cy="14.80" r="1.05" fill="#ff0052"/>
<circle cx="437.50" cy="12.30" r="1.05" fill="#ff0052"/>
<circle cx="437.50" cy="14.80" r="1.05" fill="#ff0052"/>
<circle cx="439.25" cy="12.30" r="1.05" fill="#ff0052"/>
<circle cx="439.25" cy="14.80" r="1.05" fill="#ff0052"/>
<circle cx="441.00" cy="12.30" r="1.05" fill="#ff0052"/>
<circle cx="441.00" cy="14.80" r="1.05" fill="#ff0052"/>
<circle cx="442.75" cy="12.30" r="1.05" fill="#ff0052"/>
<circle cx="442.75" cy="14.80" r="1.05" fill="#ff0052"/>
<circle cx="444.50" cy="12.30" r="1.05" fill="#ff0052"/>
<circle cx="444.50" cy="14.80" r="1.05" fill="#ff0052"/>
<circle cx="446.25" cy="12.30" r="1.05" fill="#ff0052"/>
<circle cx="446.25" cy="14.80" r="1.05" fill="#ff0052"/>
<circle cx="360.43" cy="34.50" r="1.15" fill="#5f41b0"/>
<circle cx="362.17" cy="34.50" r="1.15" fill="#1282f2"/>
<circle cx="362.17" cy="36.50" r="1.15" fill="#1282f2"/>
<circle cx="363.90" cy="34.50" r="1.15" fill="#5549b8"/>
<circle cx="363.90" cy="36.50" r="1.15" fill="#4157c9"/>
<circle cx="365.76" cy="34.50" r="1.15" fill="#1282f2"/>
<circle cx="365.76" cy="36.50" r="1.15" fill="#5f41b0"/>
<circle cx="365.76" cy="32.50" r="1.15" fill="#4157c9"/>
<circle cx="368.05" cy="34.50" r="1.15" fill="#4157c9"/>
<circle cx="368.05" cy="32.50" r="1.15" fill="#197aec"/>
<circle cx="368.05" cy="36.50" r="1.15" fill="#5549b8"/>
<circle cx="368.05" cy="30.50" r="1.15" fill="#5f41b0"/>
<circle cx="369.57" cy="34.50" r="1.15" fill="#1282f2"/>
<circle cx="369.57" cy="36.50" r="1.15" fill="#5549b8"/>
<circle cx="369.57" cy="32.50" r="1.15" fill="#4157c9"/>
<circle cx="369.57" cy="38.50" r="1.15" fill="#1282f2"/>
<circle cx="371.36" cy="34.50" r="1.15" fill="#5549b8"/>
<circle cx="371.36" cy="32.50" r="1.15" fill="#1282f2"/>
<circle cx="371.36" cy="36.50" r="1.15" fill="#4157c9"/>
<circle cx="371.36" cy="30.50" r="1.15" fill="#197aec"/>
<circle cx="373.58" cy="34.50" r="1.15" fill="#197aec"/>
<circle cx="373.58" cy="32.50" r="1.15" fill="#5549b8"/>
<circle cx="373.58" cy="36.50" r="1.15" fill="#1282f2"/>
<circle cx="373.58" cy="30.50" r="1.15" fill="#4157c9"/>
<circle cx="375.51" cy="34.50" r="1.15" fill="#5549b8"/>
<circle cx="375.51" cy="32.50" r="1.15" fill="#197aec"/>
<circle cx="375.51" cy="36.50" r="1.15" fill="#1282f2"/>
<circle cx="375.51" cy="30.50" r="1.15" fill="#4157c9"/>
<circle cx="377.42" cy="34.50" r="1.15" fill="#197aec"/>
<circle cx="377.42" cy="36.50" r="1.15" fill="#5549b8"/>
<circle cx="377.42" cy="32.50" r="1.15" fill="#197aec"/>
<circle cx="377.42" cy="38.50" r="1.15" fill="#4157c9"/>
<circle cx="377.42" cy="30.50" r="1.15" fill="#197aec"/>
<circle cx="379.07" cy="34.50" r="1.15" fill="#4157c9"/>
<circle cx="379.07" cy="36.50" r="1.15" fill="#4157c9"/>
<circle cx="379.07" cy="32.50" r="1.15" fill="#1282f2"/>
<circle cx="379.07" cy="38.50" r="1.15" fill="#5f41b0"/>
<circle cx="381.10" cy="34.50" r="1.15" fill="#197aec"/>
<circle cx="381.10" cy="36.50" r="1.15" fill="#5549b8"/>
<circle cx="381.10" cy="32.50" r="1.15" fill="#5549b8"/>
<circle cx="383.21" cy="34.50" r="1.15" fill="#5f41b0"/>
<circle cx="383.21" cy="36.50" r="1.15" fill="#197aec"/>
<circle cx="386.21" cy="34.50" r="1.15" fill="#8e2989"/>
<circle cx="388.06" cy="34.50" r="1.15" fill="#8e2989"/>
<circle cx="390.36" cy="34.50" r="1.15" fill="#8e2989"/>
<circle cx="392.44" cy="34.50" r="1.15" fill="#8e2989"/>
<circle cx="395.00" cy="34.50" r="1.15" fill="#8e2989"/>
<circle cx="387.00" cy="36.50" r="1.05" fill="#8e2989"/>
<circle cx="405.20" cy="34.50" r="1.05" fill="#ff0052"/>
<circle cx="408.62" cy="34.50" r="1.15" fill="#fe0052"/>
<circle cx="410.31" cy="34.50" r="1.15" fill="#f90254"/>
<circle cx="410.31" cy="36.50" r="1.15" fill="#f70355"/>
<circle cx="412.28" cy="34.50" r="1.15" fill="#fa0254"/>
<circle cx="412.28" cy="32.50" r="1.15" fill="#f50356"/>
<circle cx="414.14" cy="34.50" r="1.15" fill="#f60356"/>
<circle cx="414.14" cy="32.50" r="1.15" fill="#f10558"/>
<circle cx="414.14" cy="36.50" r="1.15" fill="#f00558"/>
<circle cx="415.89" cy="34.50" r="1.15" fill="#fe0052"/>
<circle cx="415.89" cy="32.50" r="1.15" fill="#f10558"/>
<circle cx="415.89" cy="36.50" r="1.15" fill="#fe0052"/>
<circle cx="415.89" cy="30.50" r="1.15" fill="#f20457"/>
<circle cx="417.93" cy="34.50" r="1.15" fill="#fc0153"/>
<circle cx="417.93" cy="32.50" r="1.15" fill="#f60356"/>
<circle cx="417.93" cy="36.50" r="1.15" fill="#f00558"/>
<circle cx="417.93" cy="30.50" r="1.15" fill="#f70355"/>
<circle cx="417.93" cy="38.50" r="1.15" fill="#f50456"/>
<circle cx="420.11" cy="34.50" r="1.15" fill="#f40456"/>
<circle cx="420.11" cy="36.50" r="1.15" fill="#fb0154"/>
<circle cx="420.11" cy="32.50" r="1.15" fill="#f70355"/>
<circle cx="421.87" cy="34.50" r="1.15" fill="#fc0153"/>
<circle cx="421.87" cy="36.50" r="1.15" fill="#fb0153"/>
<circle cx="421.87" cy="32.50" r="1.15" fill="#f00558"/>
<circle cx="423.47" cy="34.50" r="1.15" fill="#fc0153"/>
<circle cx="423.47" cy="36.50" r="1.15" fill="#f00558"/>
<circle cx="425.45" cy="34.50" r="1.15" fill="#fd0153"/>
<circle cx="425.45" cy="36.50" r="1.15" fill="#f40456"/>
<circle cx="427.39" cy="34.50" r="1.15" fill="#f30457"/>
<circle cx="353.11" cy="54.60" r="1.15" fill="#fe0052"/>
<circle cx="354.90" cy="54.60" r="1.15" fill="#f50356"/>
<circle cx="354.90" cy="56.60" r="1.15" fill="#f70355"/>
<circle cx="356.99" cy="54.60" r="1.15" fill="#ff0052"/>
<circle cx="358.94" cy="54.60" r="1.15" fill="#fe0052"/>
<circle cx="361.16" cy="54.60" r="1.15" fill="#fe0052"/>
<circle cx="362.84" cy="54.60" r="1.15" fill="#fd0153"/>
<circle cx="362.84" cy="52.60" r="1.15" fill="#fd0153"/>
<circle cx="365.05" cy="54.60" r="1.15" fill="#fe0053"/>
<circle cx="365.05" cy="52.60" r="1.15" fill="#fa0254"/>
<circle cx="365.05" cy="56.60" r="1.15" fill="#fd0153"/>
<circle cx="367.05" cy="54.60" r="1.15" fill="#f90254"/>
<circle cx="367.05" cy="56.60" r="1.15" fill="#f70355"/>
<circle cx="367.05" cy="52.60" r="1.15" fill="#f90254"/>
<circle cx="369.07" cy="54.60" r="1.15" fill="#fb0254"/>
<circle cx="370.91" cy="54.60" r="1.15" fill="#fe0052"/>
<circle cx="370.91" cy="52.60" r="1.15" fill="#ff0052"/>
<circle cx="372.88" cy="54.60" r="1.15" fill="#f70355"/>
<circle cx="372.88" cy="56.60" r="1.15" fill="#f90254"/>
<circle cx="375.24" cy="54.60" r="1.15" fill="#f70355"/>
<circle cx="375.24" cy="52.60" r="1.15" fill="#f60355"/>
<circle cx="376.98" cy="54.60" r="1.15" fill="#fc0153"/>
<circle cx="379.17" cy="54.60" r="1.15" fill="#fd0153"/>
<circle cx="380.90" cy="54.60" r="1.15" fill="#fb0254"/>
<circle cx="382.94" cy="54.60" r="1.15" fill="#f70355"/>
<circle cx="384.87" cy="54.60" r="1.15" fill="#1282f2"/>
<circle cx="384.87" cy="56.60" r="1.15" fill="#1282f2"/>
<circle cx="386.59" cy="54.60" r="1.15" fill="#4157c9"/>
<circle cx="386.59" cy="56.60" r="1.15" fill="#0a8af8"/>
<circle cx="386.59" cy="52.60" r="1.15" fill="#ff0052"/>
<circle cx="388.28" cy="54.60" r="1.15" fill="#1282f2"/>
<circle cx="388.28" cy="56.60" r="1.15" fill="#0a8af8"/>
<circle cx="388.28" cy="52.60" r="1.15" fill="#ff0052"/>
<circle cx="390.35" cy="54.60" r="1.15" fill="#0a8af8"/>
<circle cx="390.35" cy="56.60" r="1.15" fill="#ff0052"/>
<circle cx="390.35" cy="52.60" r="1.15" fill="#1282f2"/>
<circle cx="391.97" cy="54.60" r="1.15" fill="#0a8af8"/>
<circle cx="391.97" cy="52.60" r="1.15" fill="#4157c9"/>
<circle cx="391.97" cy="56.60" r="1.15" fill="#1282f2"/>
<circle cx="393.31" cy="54.60" r="1.15" fill="#1282f2"/>
<circle cx="393.31" cy="56.60" r="1.15" fill="#0a8af8"/>
<circle cx="393.31" cy="52.60" r="1.15" fill="#4157c9"/>
<circle cx="395.21" cy="54.60" r="1.15" fill="#ff0052"/>
<circle cx="395.21" cy="56.60" r="1.15" fill="#4157c9"/>
<circle cx="396.70" cy="54.60" r="1.15" fill="#ff0052"/>
<circle cx="396.70" cy="56.50" r="1.15" fill="#1282f2"/>
<circle cx="396.70" cy="52.70" r="1.15" fill="#1282f2"/>
<circle cx="396.70" cy="58.40" r="1.15" fill="#1282f2"/>
<circle cx="396.70" cy="50.80" r="1.15" fill="#1282f2"/>
<circle cx="396.70" cy="60.30" r="1.15" fill="#eb075a"/>
<circle cx="396.70" cy="48.90" r="1.15" fill="#ff0052"/>
<circle cx="397.77" cy="54.60" r="1.15" fill="#0d87f6"/>
<circle cx="397.77" cy="52.60" r="1.15" fill="#0d87f6"/>
<circle cx="397.77" cy="56.60" r="1.15" fill="#0d87f6"/>
<circle cx="399.52" cy="54.60" r="1.15" fill="#0d87f6"/>
<circle cx="399.52" cy="56.60" r="1.15" fill="#0d87f6"/>
<circle cx="401.65" cy="54.60" r="1.15" fill="#0d87f6"/>
<circle cx="401.65" cy="56.60" r="1.15" fill="#0d87f6"/>
<circle cx="403.15" cy="54.60" r="1.15" fill="#0d87f6"/>
<circle cx="403.15" cy="56.60" r="1.15" fill="#0d87f6"/>
<circle cx="404.96" cy="54.60" r="1.15" fill="#0d87f6"/>
<circle cx="404.96" cy="52.60" r="1.15" fill="#0d87f6"/>
<circle cx="406.45" cy="54.60" r="1.15" fill="#0d87f6"/>
<circle cx="406.45" cy="52.60" r="1.15" fill="#0d87f6"/>
<circle cx="408.04" cy="54.60" r="1.15" fill="#0d87f6"/>
<circle cx="408.04" cy="52.60" r="1.15" fill="#0d87f6"/>
<circle cx="408.04" cy="56.60" r="1.15" fill="#0d87f6"/>
<circle cx="409.69" cy="54.60" r="1.15" fill="#0d87f6"/>
<circle cx="409.69" cy="56.60" r="1.15" fill="#0d87f6"/>
<circle cx="411.75" cy="54.60" r="1.15" fill="#0d87f6"/>
<circle cx="339.40" cy="75.80" r="1.05" fill="#ff0052"/>
<circle cx="341.40" cy="75.80" r="1.05" fill="#ff0052"/>
<circle cx="345.50" cy="75.80" r="1.05" fill="#ff0052"/>
<circle cx="347.50" cy="75.80" r="1.05" fill="#ff0052"/>
<circle cx="341.40" cy="77.80" r="1.05" fill="#ff0052"/>
<circle cx="345.50" cy="77.80" r="1.05" fill="#ff0052"/>
<circle cx="355.50" cy="75.80" r="1.15" fill="#ff0052"/>
<circle cx="355.50" cy="77.80" r="1.15" fill="#ff0052"/>
<circle cx="362.50" cy="75.80" r="1.15" fill="#ff0052"/>
<circle cx="362.50" cy="77.80" r="1.15" fill="#ff0052"/>
<circle cx="362.50" cy="73.80" r="1.15" fill="#ff0052"/>
<circle cx="364.50" cy="75.80" r="1.15" fill="#ff0052"/>
<circle cx="366.50" cy="75.80" r="1.15" fill="#ff0052"/>
<circle cx="366.50" cy="73.80" r="1.15" fill="#ff0052"/>
<circle cx="369.80" cy="75.80" r="1.15" fill="#ff0052"/>
<circle cx="372.08" cy="75.80" r="1.15" fill="#ff0052"/>
<circle cx="372.08" cy="77.80" r="1.15" fill="#ff0052"/>
<circle cx="374.07" cy="75.80" r="1.15" fill="#ff0052"/>
<circle cx="374.07" cy="77.80" r="1.15" fill="#ff0052"/>
<circle cx="376.08" cy="75.80" r="1.15" fill="#ff0052"/>
<circle cx="378.10" cy="75.80" r="1.15" fill="#ff0052"/>
<circle cx="380.24" cy="75.80" r="1.15" fill="#ff0052"/>
<circle cx="381.96" cy="75.80" r="1.15" fill="#ff0052"/>
<circle cx="381.91" cy="75.80" r="1.15" fill="#5549b8"/>
<circle cx="381.91" cy="73.80" r="1.15" fill="#5549b8"/>
<circle cx="381.91" cy="77.80" r="1.15" fill="#4157c9"/>
<circle cx="383.88" cy="75.80" r="1.15" fill="#ff0052"/>
<circle cx="383.88" cy="73.80" r="1.15" fill="#4157c9"/>
<circle cx="383.88" cy="77.80" r="1.15" fill="#5549b8"/>
<circle cx="385.51" cy="75.80" r="1.15" fill="#4157c9"/>
<circle cx="385.51" cy="77.80" r="1.15" fill="#5549b8"/>
<circle cx="385.51" cy="73.80" r="1.15" fill="#4157c9"/>
<circle cx="385.51" cy="79.80" r="1.15" fill="#5549b8"/>
<circle cx="386.91" cy="75.80" r="1.15" fill="#5549b8"/>
<circle cx="386.91" cy="77.80" r="1.15" fill="#ff0052"/>
<circle cx="386.91" cy="73.80" r="1.15" fill="#5549b8"/>
<circle cx="386.91" cy="79.80" r="1.15" fill="#5549b8"/>
<circle cx="388.94" cy="75.80" r="1.15" fill="#4157c9"/>
<circle cx="388.94" cy="77.80" r="1.15" fill="#4157c9"/>
<circle cx="388.94" cy="73.80" r="1.15" fill="#ff0052"/>
<circle cx="389.82" cy="75.80" r="1.15" fill="#0d87f6"/>
<circle cx="389.82" cy="73.80" r="1.15" fill="#0d87f6"/>
<circle cx="389.82" cy="77.80" r="1.15" fill="#0d87f6"/>
<circle cx="391.49" cy="75.80" r="1.15" fill="#0d87f6"/>
<circle cx="391.49" cy="73.80" r="1.15" fill="#0d87f6"/>
<circle cx="391.49" cy="77.80" r="1.15" fill="#0d87f6"/>
<circle cx="393.52" cy="75.80" r="1.15" fill="#0d87f6"/>
<circle cx="393.52" cy="77.80" r="1.15" fill="#0d87f6"/>
<circle cx="393.52" cy="73.80" r="1.15" fill="#0d87f6"/>
<circle cx="394.92" cy="75.80" r="1.15" fill="#0d87f6"/>
<circle cx="394.92" cy="73.80" r="1.15" fill="#0d87f6"/>
<circle cx="394.92" cy="77.80" r="1.15" fill="#0d87f6"/>
<circle cx="396.63" cy="75.80" r="1.15" fill="#0d87f6"/>
<circle cx="396.63" cy="77.80" r="1.15" fill="#0d87f6"/>
<circle cx="398.71" cy="75.80" r="1.15" fill="#0d87f6"/>
<circle cx="400.14" cy="75.80" r="1.15" fill="#0d87f6"/>
<circle cx="401.80" cy="75.80" r="1.15" fill="#0d87f6"/>
<circle cx="401.80" cy="77.80" r="1.15" fill="#0d87f6"/>
<circle cx="403.84" cy="75.80" r="1.15" fill="#0d87f6"/>
<circle cx="403.84" cy="73.80" r="1.15" fill="#0d87f6"/>
<circle cx="405.21" cy="75.80" r="1.15" fill="#0d87f6"/>
<circle cx="405.21" cy="73.80" r="1.15" fill="#0d87f6"/>
<circle cx="406.79" cy="75.80" r="1.15" fill="#0d87f6"/>
<circle cx="406.79" cy="77.80" r="1.15" fill="#0d87f6"/>
<circle cx="408.77" cy="75.80" r="1.15" fill="#0d87f6"/>
<circle cx="408.77" cy="77.80" r="1.15" fill="#0d87f6"/>
<circle cx="410.46" cy="75.80" r="1.15" fill="#0d87f6"/>
<circle cx="412.26" cy="75.80" r="1.15" fill="#0d87f6"/>
<circle cx="408.90" cy="75.80" r="1.15" fill="#0d87f6"/>
<circle cx="408.90" cy="77.70" r="1.15" fill="#0d87f6"/>
<circle cx="408.90" cy="73.90" r="1.15" fill="#0d87f6"/>
<circle cx="408.90" cy="79.60" r="1.15" fill="#0d87f6"/>
<circle cx="408.90" cy="72.00" r="1.15" fill="#0d87f6"/>
<circle cx="408.90" cy="81.50" r="1.15" fill="#0d87f6"/>
<circle cx="408.90" cy="70.10" r="1.15" fill="#0d87f6"/>
<circle cx="360.87" cy="95.30" r="1.15" fill="#2c69dd"/>
<circle cx="362.81" cy="95.30" r="1.15" fill="#524aba"/>
<circle cx="362.81" cy="97.30" r="1.15" fill="#4752c3"/>
<circle cx="364.75" cy="95.30" r="1.15" fill="#3f5acb"/>
<circle cx="364.75" cy="97.30" r="1.15" fill="#286de1"/>
<circle cx="364.75" cy="93.30" r="1.15" fill="#2d69dc"/>
<circle cx="366.78" cy="95.30" r="1.15" fill="#3d5bcd"/>
<circle cx="366.78" cy="93.30" r="1.15" fill="#266ee2"/>
<circle cx="366.78" cy="97.30" r="1.15" fill="#2273e5"/>
<circle cx="368.64" cy="95.30" r="1.15" fill="#3165d9"/>
<circle cx="368.64" cy="93.30" r="1.15" fill="#3165d9"/>
<circle cx="368.64" cy="97.30" r="1.15" fill="#1381f1"/>
<circle cx="370.66" cy="95.30" r="1.15" fill="#3264d8"/>
<circle cx="370.66" cy="93.30" r="1.15" fill="#3165d9"/>
<circle cx="370.66" cy="97.30" r="1.15" fill="#3c5cce"/>
<circle cx="372.66" cy="95.30" r="1.15" fill="#4752c3"/>
<circle cx="372.66" cy="97.30" r="1.15" fill="#2e68dc"/>
<circle cx="372.66" cy="93.30" r="1.15" fill="#157eef"/>
<circle cx="374.33" cy="95.30" r="1.15" fill="#167dee"/>
<circle cx="374.33" cy="93.30" r="1.15" fill="#3165d9"/>
<circle cx="374.33" cy="97.30" r="1.15" fill="#3562d5"/>
<circle cx="376.07" cy="95.30" r="1.15" fill="#167def"/>
<circle cx="376.07" cy="97.30" r="1.15" fill="#4256c8"/>
<circle cx="376.07" cy="93.30" r="1.15" fill="#4554c5"/>
<circle cx="378.21" cy="95.30" r="1.15" fill="#4455c6"/>
<circle cx="378.21" cy="97.30" r="1.15" fill="#4d4ebe"/>
<circle cx="378.21" cy="93.30" r="1.15" fill="#3e5acc"/>
<circle cx="380.24" cy="95.30" r="1.15" fill="#4a50c0"/>
<circle cx="380.24" cy="97.30" r="1.15" fill="#5449b8"/>
<circle cx="380.24" cy="93.30" r="1.15" fill="#4256c8"/>
<circle cx="382.16" cy="95.30" r="1.15" fill="#187bec"/>
<circle cx="382.16" cy="97.30" r="1.15" fill="#4c4fbe"/>
<circle cx="382.16" cy="93.30" r="1.15" fill="#2570e3"/>
<circle cx="367.00" cy="95.30" r="1.15" fill="#3066da"/>
<circle cx="367.00" cy="97.30" r="1.15" fill="#3066da"/>
<circle cx="367.00" cy="93.30" r="1.15" fill="#4a50c0"/>
<circle cx="367.00" cy="99.30" r="1.15" fill="#4a50c0"/>
<circle cx="367.00" cy="91.30" r="1.15" fill="#3066da"/>
<circle cx="372.00" cy="95.30" r="1.15" fill="#4a50c0"/>
<circle cx="372.00" cy="93.30" r="1.15" fill="#4a50c0"/>
<circle cx="372.00" cy="97.30" r="1.15" fill="#3066da"/>
<circle cx="372.00" cy="91.30" r="1.15" fill="#4a50c0"/>
<circle cx="372.00" cy="99.30" r="1.15" fill="#4a50c0"/>
<circle cx="376.00" cy="95.30" r="1.15" fill="#4a50c0"/>
<circle cx="376.00" cy="97.30" r="1.15" fill="#3066da"/>
<circle cx="376.00" cy="93.30" r="1.15" fill="#4a50c0"/>
<circle cx="376.00" cy="99.30" r="1.15" fill="#4a50c0"/>
<circle cx="376.00" cy="91.30" r="1.15" fill="#3066da"/>
<circle cx="381.00" cy="95.30" r="1.15" fill="#3066da"/>
<circle cx="381.00" cy="97.30" r="1.15" fill="#4a50c0"/>
<circle cx="381.00" cy="93.30" r="1.15" fill="#3066da"/>
<circle cx="381.00" cy="99.30" r="1.15" fill="#4a50c0"/>
<circle cx="381.00" cy="91.30" r="1.15" fill="#4a50c0"/>
<circle cx="389.20" cy="95.30" r="1.15" fill="#f70355"/>
<circle cx="389.20" cy="97.30" r="1.15" fill="#e20a5e"/>
<circle cx="389.20" cy="93.30" r="1.15" fill="#f60356"/>
<circle cx="390.67" cy="95.30" r="1.15" fill="#fe0053"/>
<circle cx="390.67" cy="93.30" r="1.15" fill="#e9085b"/>
<circle cx="390.67" cy="97.30" r="1.15" fill="#ec075a"/>
<circle cx="392.89" cy="95.30" r="1.15" fill="#e10a5e"/>
<circle cx="392.89" cy="97.30" r="1.15" fill="#ec0759"/>
<circle cx="392.89" cy="93.30" r="1.15" fill="#f90254"/>
<circle cx="394.82" cy="95.30" r="1.15" fill="#e20a5e"/>
<circle cx="394.82" cy="93.30" r="1.15" fill="#ff0052"/>
<circle cx="394.82" cy="97.30" r="1.15" fill="#ee0659"/>
<circle cx="396.53" cy="95.30" r="1.15" fill="#e9085b"/>
<circle cx="396.53" cy="97.30" r="1.15" fill="#de0c5f"/>
<circle cx="396.53" cy="93.30" r="1.15" fill="#f50456"/>
<circle cx="398.27" cy="95.30" r="1.15" fill="#e30a5d"/>
<circle cx="398.27" cy="93.30" r="1.15" fill="#fe0053"/>
<circle cx="398.27" cy="97.30" r="1.15" fill="#fa0254"/>
<circle cx="400.61" cy="95.30" r="1.15" fill="#f40456"/>
<circle cx="400.61" cy="93.30" r="1.15" fill="#f50456"/>
<circle cx="400.61" cy="97.30" r="1.15" fill="#e00b5e"/>
<circle cx="402.20" cy="95.30" r="1.15" fill="#e8085b"/>
<circle cx="402.20" cy="93.30" r="1.15" fill="#e6095c"/>
<circle cx="402.20" cy="97.30" r="1.15" fill="#d90d61"/>
<circle cx="404.19" cy="95.30" r="1.15" fill="#d80e62"/>
<circle cx="404.19" cy="97.30" r="1.15" fill="#d70e62"/>
<circle cx="404.19" cy="93.30" r="1.15" fill="#e5095c"/>
<circle cx="405.90" cy="95.30" r="1.15" fill="#ec0759"/>
<circle cx="405.90" cy="93.30" r="1.15" fill="#e8085b"/>
<circle cx="405.90" cy="97.30" r="1.15" fill="#e30a5d"/>
<circle cx="407.82" cy="95.30" r="1.15" fill="#f00558"/>
<circle cx="407.82" cy="93.30" r="1.15" fill="#ea075a"/>
<circle cx="409.72" cy="95.30" r="1.15" fill="#f30457"/>
<circle cx="409.72" cy="97.30" r="1.15" fill="#e9085b"/>
<circle cx="411.58" cy="95.30" r="1.15" fill="#fa0254"/>
<circle cx="392.00" cy="95.30" r="1.15" fill="#f50456"/>
<circle cx="392.00" cy="93.30" r="1.15" fill="#f50456"/>
<circle cx="392.00" cy="97.30" r="1.15" fill="#d70e62"/>
<circle cx="392.00" cy="91.30" r="1.15" fill="#d70e62"/>
<circle cx="392.00" cy="99.30" r="1.15" fill="#f50456"/>
<circle cx="397.00" cy="95.30" r="1.15" fill="#f50456"/>
<circle cx="397.00" cy="93.30" r="1.15" fill="#d70e62"/>
<circle cx="397.00" cy="97.30" r="1.15" fill="#d70e62"/>
<circle cx="397.00" cy="91.30" r="1.15" fill="#d70e62"/>
<circle cx="397.00" cy="99.30" r="1.15" fill="#d70e62"/>
<circle cx="401.00" cy="95.30" r="1.15" fill="#d70e62"/>
<circle cx="401.00" cy="97.30" r="1.15" fill="#f50456"/>
<circle cx="401.00" cy="93.30" r="1.15" fill="#d70e62"/>
<circle cx="401.00" cy="99.30" r="1.15" fill="#d70e62"/>
<circle cx="401.00" cy="91.30" r="1.15" fill="#d70e62"/>
<circle cx="406.00" cy="95.30" r="1.15" fill="#d70e62"/>
<circle cx="406.00" cy="97.30" r="1.15" fill="#d70e62"/>
<circle cx="406.00" cy="93.30" r="1.15" fill="#d70e62"/>
<circle cx="406.00" cy="99.30" r="1.15" fill="#d70e62"/>
<circle cx="406.00" cy="91.30" r="1.15" fill="#f50456"/>
<circle cx="369.55" cy="115.60" r="1.15" fill="#0d87f6"/>
<circle cx="371.66" cy="115.60" r="1.15" fill="#0d87f6"/>
<circle cx="371.66" cy="117.60" r="1.15" fill="#0d87f6"/>
<circle cx="371.66" cy="113.60" r="1.15" fill="#0d87f6"/>
<circle cx="373.30" cy="115.60" r="1.15" fill="#0d87f6"/>
<circle cx="373.30" cy="117.60" r="1.15" fill="#0d87f6"/>
<circle cx="373.30" cy="113.60" r="1.15" fill="#0d87f6"/>
<circle cx="373.30" cy="119.60" r="1.15" fill="#0d87f6"/>
<circle cx="375.00" cy="115.60" r="1.15" fill="#0d87f6"/>
<circle cx="375.00" cy="117.60" r="1.15" fill="#0d87f6"/>
<circle cx="375.00" cy="113.60" r="1.15" fill="#0d87f6"/>
<circle cx="375.00" cy="119.60" r="1.15" fill="#0d87f6"/>
<circle cx="375.00" cy="111.60" r="1.15" fill="#0d87f6"/>
<circle cx="377.15" cy="115.60" r="1.15" fill="#0d87f6"/>
<circle cx="377.15" cy="113.60" r="1.15" fill="#0d87f6"/>
<circle cx="377.15" cy="117.60" r="1.15" fill="#0d87f6"/>
<circle cx="377.15" cy="111.60" r="1.15" fill="#0d87f6"/>
<circle cx="377.15" cy="119.60" r="1.15" fill="#0d87f6"/>
<circle cx="377.15" cy="109.60" r="1.15" fill="#0d87f6"/>
<circle cx="378.81" cy="115.60" r="1.15" fill="#0d87f6"/>
<circle cx="378.81" cy="117.60" r="1.15" fill="#0d87f6"/>
<circle cx="378.81" cy="113.60" r="1.15" fill="#0d87f6"/>
<circle cx="378.81" cy="119.60" r="1.15" fill="#0d87f6"/>
<circle cx="378.81" cy="111.60" r="1.15" fill="#0d87f6"/>
<circle cx="378.81" cy="121.60" r="1.15" fill="#0d87f6"/>
<circle cx="378.81" cy="109.60" r="1.15" fill="#0d87f6"/>
<circle cx="380.44" cy="115.60" r="1.15" fill="#0d87f6"/>
<circle cx="380.44" cy="113.60" r="1.15" fill="#0d87f6"/>
<circle cx="380.44" cy="117.60" r="1.15" fill="#0d87f6"/>
<circle cx="380.44" cy="111.60" r="1.15" fill="#0d87f6"/>
<circle cx="380.44" cy="119.60" r="1.15" fill="#0d87f6"/>
<circle cx="380.44" cy="109.60" r="1.15" fill="#0d87f6"/>
<circle cx="382.42" cy="115.60" r="1.15" fill="#0d87f6"/>
<circle cx="382.42" cy="113.60" r="1.15" fill="#0d87f6"/>
<circle cx="382.42" cy="117.60" r="1.15" fill="#0d87f6"/>
<circle cx="382.42" cy="111.60" r="1.15" fill="#0d87f6"/>
<circle cx="382.42" cy="119.60" r="1.15" fill="#0d87f6"/>
<circle cx="383.89" cy="115.60" r="1.15" fill="#0d87f6"/>
<circle cx="383.89" cy="113.60" r="1.15" fill="#0d87f6"/>
<circle cx="383.89" cy="117.60" r="1.15" fill="#0d87f6"/>
<circle cx="383.89" cy="111.60" r="1.15" fill="#0d87f6"/>
<circle cx="385.74" cy="115.60" r="1.15" fill="#0d87f6"/>
<circle cx="385.74" cy="117.60" r="1.15" fill="#0d87f6"/>
<circle cx="389.00" cy="115.60" r="1.05" fill="#ff0052"/>
<circle cx="392.00" cy="115.60" r="1.05" fill="#ff0052"/>
<circle cx="396.00" cy="115.60" r="1.05" fill="#ff0052"/>
<circle cx="401.48" cy="115.60" r="1.15" fill="#ff0052"/>
<circle cx="403.41" cy="115.60" r="1.15" fill="#ff0052"/>
<circle cx="405.71" cy="115.60" r="1.15" fill="#ff0052"/>
<circle cx="407.67" cy="115.60" r="1.15" fill="#ff0052"/>
<circle cx="409.69" cy="115.60" r="1.15" fill="#ff0052"/>
<circle cx="411.50" cy="115.60" r="1.15" fill="#ff0052"/>
<circle cx="413.39" cy="115.60" r="1.15" fill="#ff0052"/>
<circle cx="415.43" cy="115.60" r="1.15" fill="#ff0052"/>
<circle cx="403.00" cy="114.00" r="1.05" fill="#ff0052"/>
<circle cx="406.00" cy="114.00" r="1.05" fill="#ff0052"/>
<circle cx="410.00" cy="114.00" r="1.05" fill="#ff0052"/>
<circle cx="413.00" cy="114.00" r="1.05" fill="#ff0052"/>
<circle cx="418.17" cy="115.60" r="1.15" fill="#ff0052"/>
<circle cx="418.17" cy="117.60" r="1.15" fill="#ff0052"/>
<circle cx="420.22" cy="115.60" r="1.15" fill="#ff0052"/>
<circle cx="420.22" cy="113.60" r="1.15" fill="#ff0052"/>
<circle cx="421.85" cy="115.60" r="1.15" fill="#ff0052"/>
<circle cx="421.85" cy="113.60" r="1.15" fill="#ff0052"/>
<circle cx="423.91" cy="115.60" r="1.15" fill="#ff0052"/>
<circle cx="423.91" cy="117.60" r="1.15" fill="#ff0052"/>
<circle cx="425.94" cy="115.60" r="1.15" fill="#ff0052"/>
<circle cx="425.94" cy="113.60" r="1.15" fill="#ff0052"/>
<circle cx="427.99" cy="115.60" r="1.15" fill="#ff0052"/>
<circle cx="427.99" cy="117.60" r="1.15" fill="#ff0052"/>
<circle cx="371.38" cy="136.40" r="1.15" fill="#0d87f6"/>
<circle cx="373.23" cy="136.40" r="1.15" fill="#0d87f6"/>
<circle cx="373.23" cy="138.40" r="1.15" fill="#0d87f6"/>
<circle cx="374.84" cy="136.40" r="1.15" fill="#0d87f6"/>
<circle cx="374.84" cy="134.40" r="1.15" fill="#0d87f6"/>
<circle cx="374.84" cy="138.40" r="1.15" fill="#0d87f6"/>
<circle cx="376.74" cy="136.40" r="1.15" fill="#0d87f6"/>
<circle cx="376.74" cy="134.40" r="1.15" fill="#0d87f6"/>
<circle cx="376.74" cy="138.40" r="1.15" fill="#0d87f6"/>
<circle cx="376.74" cy="132.40" r="1.15" fill="#0d87f6"/>
<circle cx="378.46" cy="136.40" r="1.15" fill="#0d87f6"/>
<circle cx="378.46" cy="138.40" r="1.15" fill="#0d87f6"/>
<circle cx="378.46" cy="134.40" r="1.15" fill="#0d87f6"/>
<circle cx="378.46" cy="140.40" r="1.15" fill="#0d87f6"/>
<circle cx="378.46" cy="132.40" r="1.15" fill="#0d87f6"/>
<circle cx="380.23" cy="136.40" r="1.15" fill="#0d87f6"/>
<circle cx="380.23" cy="138.40" r="1.15" fill="#0d87f6"/>
<circle cx="380.23" cy="134.40" r="1.15" fill="#0d87f6"/>
<circle cx="380.23" cy="140.40" r="1.15" fill="#0d87f6"/>
<circle cx="380.23" cy="132.40" r="1.15" fill="#0d87f6"/>
<circle cx="380.23" cy="142.40" r="1.15" fill="#0d87f6"/>
<circle cx="381.82" cy="136.40" r="1.15" fill="#0d87f6"/>
<circle cx="381.82" cy="138.40" r="1.15" fill="#0d87f6"/>
<circle cx="381.82" cy="134.40" r="1.15" fill="#0d87f6"/>
<circle cx="381.82" cy="140.40" r="1.15" fill="#0d87f6"/>
<circle cx="381.82" cy="132.40" r="1.15" fill="#0d87f6"/>
<circle cx="383.61" cy="136.40" r="1.15" fill="#0d87f6"/>
<circle cx="383.61" cy="138.40" r="1.15" fill="#0d87f6"/>
<circle cx="383.61" cy="134.40" r="1.15" fill="#0d87f6"/>
<circle cx="385.52" cy="136.40" r="1.15" fill="#0d87f6"/>
<circle cx="385.52" cy="138.40" r="1.15" fill="#0d87f6"/>
<circle cx="389.70" cy="136.40" r="1.05" fill="#0d87f6"/>
<circle cx="399.50" cy="136.40" r="1.15" fill="#ff0052"/>
<circle cx="401.17" cy="136.40" r="1.15" fill="#ff0052"/>
<circle cx="401.17" cy="138.40" r="1.15" fill="#ff0052"/>
<circle cx="403.50" cy="136.40" r="1.15" fill="#ff0052"/>
<circle cx="403.50" cy="138.40" r="1.15" fill="#ff0052"/>
<circle cx="405.18" cy="136.40" r="1.15" fill="#ff0052"/>
<circle cx="405.18" cy="134.40" r="1.15" fill="#ff0052"/>
<circle cx="407.25" cy="136.40" r="1.15" fill="#ff0052"/>
<circle cx="407.25" cy="138.40" r="1.15" fill="#ff0052"/>
<circle cx="411.30" cy="136.40" r="1.05" fill="#ff0052"/>
<circle cx="417.39" cy="136.40" r="1.15" fill="#ff0052"/>
<circle cx="417.39" cy="134.40" r="1.15" fill="#ff0052"/>
<circle cx="418.80" cy="136.40" r="1.15" fill="#ff0052"/>
<circle cx="418.80" cy="138.40" r="1.15" fill="#ff0052"/>
<circle cx="420.65" cy="136.40" r="1.15" fill="#ff0052"/>
<circle cx="420.65" cy="138.40" r="1.15" fill="#ff0052"/>
<circle cx="422.37" cy="136.40" r="1.15" fill="#ff0052"/>
<circle cx="422.37" cy="138.40" r="1.15" fill="#ff0052"/>
<circle cx="424.56" cy="136.40" r="1.15" fill="#ff0052"/>
<circle cx="424.56" cy="134.40" r="1.15" fill="#ff0052"/>
<circle cx="426.19" cy="136.40" r="1.15" fill="#ff0052"/>
<circle cx="362.90" cy="156.40" r="1.15" fill="#187bed"/>
<circle cx="364.82" cy="156.40" r="1.15" fill="#1281f2"/>
<circle cx="366.58" cy="156.40" r="1.15" fill="#1381f1"/>
<circle cx="368.63" cy="156.40" r="1.15" fill="#286de0"/>
<circle cx="370.35" cy="156.40" r="1.15" fill="#2b6ade"/>
<circle cx="372.16" cy="156.40" r="1.15" fill="#296ce0"/>
<circle cx="373.67" cy="156.40" r="1.15" fill="#197aec"/>
<circle cx="375.80" cy="156.40" r="1.15" fill="#266fe2"/>
<circle cx="370.00" cy="156.40" r="1.15" fill="#2470e3"/>
<circle cx="370.00" cy="158.30" r="1.15" fill="#2470e3"/>
<circle cx="370.00" cy="154.50" r="1.15" fill="#2470e3"/>
<circle cx="370.00" cy="160.20" r="1.15" fill="#2470e3"/>
<circle cx="370.00" cy="152.60" r="1.15" fill="#2470e3"/>
<circle cx="370.00" cy="162.10" r="1.15" fill="#2470e3"/>
<circle cx="370.00" cy="150.70" r="1.15" fill="#2470e3"/>
<circle cx="366.00" cy="156.40" r="1.15" fill="#197aec"/>
<circle cx="366.00" cy="154.40" r="1.15" fill="#197aec"/>
<circle cx="366.00" cy="158.40" r="1.15" fill="#197aec"/>
<circle cx="375.00" cy="156.40" r="1.15" fill="#3066da"/>
<circle cx="375.00" cy="158.40" r="1.15" fill="#3066da"/>
<circle cx="375.00" cy="154.40" r="1.15" fill="#3066da"/>
<circle cx="375.00" cy="160.40" r="1.15" fill="#3066da"/>
<circle cx="375.00" cy="152.40" r="1.15" fill="#3066da"/>
<circle cx="373.00" cy="156.40" r="1.15" fill="#197aec"/>
<circle cx="373.00" cy="154.40" r="1.15" fill="#197aec"/>
<circle cx="373.00" cy="158.40" r="1.15" fill="#197aec"/>
<circle cx="376.75" cy="156.40" r="1.15" fill="#8e2989"/>
<circle cx="378.83" cy="156.40" r="1.15" fill="#4157c9"/>
<circle cx="378.83" cy="158.40" r="1.15" fill="#8e2989"/>
<circle cx="380.40" cy="156.40" r="1.15" fill="#6a3aa8"/>
<circle cx="380.40" cy="154.40" r="1.15" fill="#d70e62"/>
<circle cx="382.15" cy="156.40" r="1.15" fill="#ff0052"/>
<circle cx="382.15" cy="154.40" r="1.15" fill="#6a3aa8"/>
<circle cx="382.15" cy="158.40" r="1.15" fill="#8e2989"/>
<circle cx="383.96" cy="156.40" r="1.15" fill="#d70e62"/>
<circle cx="383.96" cy="158.40" r="1.15" fill="#6a3aa8"/>
<circle cx="383.96" cy="154.40" r="1.15" fill="#4157c9"/>
<circle cx="385.72" cy="156.40" r="1.15" fill="#d70e62"/>
<circle cx="385.72" cy="158.40" r="1.15" fill="#ff0052"/>
<circle cx="385.72" cy="154.40" r="1.15" fill="#4157c9"/>
<circle cx="387.26" cy="156.40" r="1.15" fill="#4157c9"/>
<circle cx="387.26" cy="154.40" r="1.15" fill="#d70e62"/>
<circle cx="387.26" cy="158.40" r="1.15" fill="#d70e62"/>
<circle cx="389.10" cy="156.40" r="1.15" fill="#d70e62"/>
<circle cx="389.10" cy="158.40" r="1.15" fill="#4157c9"/>
<circle cx="389.10" cy="154.40" r="1.15" fill="#8e2989"/>
<circle cx="390.45" cy="156.40" r="1.15" fill="#d70e62"/>
<circle cx="390.45" cy="154.40" r="1.15" fill="#ff0052"/>
<circle cx="390.45" cy="158.40" r="1.15" fill="#ff0052"/>
<circle cx="388.50" cy="156.40" r="1.15" fill="#8e2989"/>
<circle cx="388.50" cy="158.30" r="1.15" fill="#6a3aa8"/>
<circle cx="388.50" cy="154.50" r="1.15" fill="#8e2989"/>
<circle cx="388.50" cy="160.20" r="1.15" fill="#6a3aa8"/>
<circle cx="388.50" cy="152.60" r="1.15" fill="#6a3aa8"/>
<circle cx="388.50" cy="162.10" r="1.15" fill="#8e2989"/>
<circle cx="388.50" cy="150.70" r="1.15" fill="#8e2989"/>
<circle cx="395.50" cy="156.40" r="1.05" fill="#0d87f6"/>
<circle cx="403.11" cy="156.40" r="1.15" fill="#ff0052"/>
<circle cx="403.11" cy="154.40" r="1.15" fill="#ff0052"/>
<circle cx="404.88" cy="156.40" r="1.15" fill="#ff0052"/>
<circle cx="404.88" cy="154.40" r="1.15" fill="#ff0052"/>
<circle cx="404.88" cy="158.40" r="1.15" fill="#ff0052"/>
<circle cx="406.33" cy="156.40" r="1.15" fill="#ff0052"/>
<circle cx="406.33" cy="154.40" r="1.15" fill="#ff0052"/>
<circle cx="406.33" cy="158.40" r="1.15" fill="#ff0052"/>
<circle cx="408.29" cy="156.40" r="1.15" fill="#ff0052"/>
<circle cx="408.29" cy="154.40" r="1.15" fill="#ff0052"/>
<circle cx="408.29" cy="158.40" r="1.15" fill="#ff0052"/>
<circle cx="409.94" cy="156.40" r="1.15" fill="#ff0052"/>
<circle cx="409.94" cy="158.40" r="1.15" fill="#ff0052"/>
<circle cx="409.94" cy="154.40" r="1.15" fill="#ff0052"/>
<circle cx="411.52" cy="156.40" r="1.15" fill="#ff0052"/>
<circle cx="411.52" cy="158.40" r="1.15" fill="#ff0052"/>
<circle cx="411.52" cy="154.40" r="1.15" fill="#ff0052"/>
<circle cx="413.30" cy="156.40" r="1.15" fill="#ff0052"/>
<circle cx="351.80" cy="176.80" r="1.2" fill="#1282f2"/>
<circle cx="360.00" cy="176.80" r="1.2" fill="#1282f2"/>
<circle cx="363.00" cy="176.80" r="1.2" fill="#1282f2"/>
<circle cx="365.00" cy="176.80" r="1.2" fill="#1282f2"/>
<circle cx="367.00" cy="176.80" r="1.2" fill="#1282f2"/>
<circle cx="369.00" cy="176.80" r="1.2" fill="#1282f2"/>
<circle cx="371.00" cy="176.80" r="1.2" fill="#1282f2"/>
<circle cx="373.00" cy="176.80" r="1.2" fill="#1282f2"/>
<circle cx="375.00" cy="176.80" r="1.2" fill="#1282f2"/>
<circle cx="377.00" cy="176.80" r="1.2" fill="#1282f2"/>
<circle cx="379.00" cy="176.80" r="1.2" fill="#1282f2"/>
<circle cx="381.00" cy="176.80" r="1.2" fill="#1282f2"/>
<circle cx="383.00" cy="176.80" r="1.2" fill="#5549b8"/>
<circle cx="385.00" cy="176.80" r="1.2" fill="#5549b8"/>
<circle cx="387.00" cy="176.80" r="1.2" fill="#5549b8"/>
<circle cx="389.00" cy="176.80" r="1.2" fill="#5549b8"/>
<circle cx="391.00" cy="176.80" r="1.2" fill="#5549b8"/>
<circle cx="393.00" cy="176.80" r="1.2" fill="#5549b8"/>
<circle cx="394.00" cy="176.80" r="1.2" fill="#ff0052"/>
<circle cx="396.00" cy="176.80" r="1.2" fill="#ff0052"/>
<circle cx="398.00" cy="176.80" r="1.2" fill="#ff0052"/>
<circle cx="400.00" cy="176.80" r="1.2" fill="#ff0052"/>
<circle cx="402.00" cy="176.80" r="1.2" fill="#ff0052"/>
<circle cx="404.00" cy="176.80" r="1.2" fill="#ff0052"/>
<circle cx="406.00" cy="176.80" r="1.2" fill="#ff0052"/>
<circle cx="408.00" cy="176.80" r="1.2" fill="#ff0052"/>
<circle cx="410.00" cy="176.80" r="1.2" fill="#ff0052"/>
<circle cx="413.50" cy="176.80" r="1.2" fill="#ff0052"/>
<circle cx="372.50" cy="172.80" r="1.2" fill="#1282f2"/>
<circle cx="374.80" cy="172.80" r="1.2" fill="#1282f2"/>
<circle cx="386.50" cy="172.80" r="1.2" fill="#5549b8"/>
<circle cx="388.80" cy="172.80" r="1.2" fill="#5549b8"/>
<circle cx="400.50" cy="172.80" r="1.2" fill="#ff0052"/>
<circle cx="402.80" cy="172.80" r="1.2" fill="#ff0052"/>
<circle cx="405.00" cy="172.80" r="1.2" fill="#ff0052"/>
<circle cx="366.50" cy="181.00" r="1.2" fill="#1282f2"/>
<circle cx="368.80" cy="181.00" r="1.2" fill="#1282f2"/>
<circle cx="371.00" cy="181.00" r="1.2" fill="#1282f2"/>
<circle cx="374.00" cy="181.00" r="1.2" fill="#1282f2"/>
<circle cx="376.30" cy="181.00" r="1.2" fill="#1282f2"/>
<circle cx="381.00" cy="181.00" r="1.2" fill="#5549b8"/>
<circle cx="383.10" cy="181.00" r="1.2" fill="#5549b8"/>
<circle cx="385.20" cy="181.00" r="1.2" fill="#5549b8"/>
<circle cx="387.30" cy="181.00" r="1.2" fill="#5549b8"/>
<circle cx="389.40" cy="181.00" r="1.2" fill="#5549b8"/>
<circle cx="391.50" cy="181.00" r="1.2" fill="#5549b8"/>
<circle cx="397.00" cy="181.00" r="1.2" fill="#ff0052"/>
<circle cx="399.20" cy="181.00" r="1.2" fill="#ff0052"/>
<circle cx="401.40" cy="181.00" r="1.2" fill="#ff0052"/>
<circle cx="403.60" cy="181.00" r="1.2" fill="#ff0052"/>
<circle cx="413.30" cy="181.00" r="1.2" fill="#ff0052"/>
<circle cx="368.20" cy="197.60" r="1.15" fill="#0d87f6"/>
<circle cx="370.21" cy="197.60" r="1.15" fill="#0d87f6"/>
<circle cx="370.21" cy="199.60" r="1.15" fill="#0d87f6"/>
<circle cx="370.21" cy="195.60" r="1.15" fill="#0d87f6"/>
<circle cx="372.01" cy="197.60" r="1.15" fill="#0d87f6"/>
<circle cx="372.01" cy="195.60" r="1.15" fill="#0d87f6"/>
<circle cx="372.01" cy="199.60" r="1.15" fill="#0d87f6"/>
<circle cx="373.53" cy="197.60" r="1.15" fill="#0d87f6"/>
<circle cx="373.53" cy="195.60" r="1.15" fill="#0d87f6"/>
<circle cx="373.53" cy="199.60" r="1.15" fill="#0d87f6"/>
<circle cx="373.53" cy="193.60" r="1.15" fill="#0d87f6"/>
<circle cx="375.73" cy="197.60" r="1.15" fill="#0d87f6"/>
<circle cx="375.73" cy="195.60" r="1.15" fill="#0d87f6"/>
<circle cx="375.73" cy="199.60" r="1.15" fill="#0d87f6"/>
<circle cx="375.73" cy="193.60" r="1.15" fill="#0d87f6"/>
<circle cx="377.54" cy="197.60" r="1.15" fill="#0d87f6"/>
<circle cx="377.54" cy="199.60" r="1.15" fill="#0d87f6"/>
<circle cx="377.54" cy="195.60" r="1.15" fill="#0d87f6"/>
<circle cx="378.93" cy="197.60" r="1.15" fill="#0d87f6"/>
<circle cx="378.93" cy="199.60" r="1.15" fill="#0d87f6"/>
<circle cx="378.93" cy="195.60" r="1.15" fill="#0d87f6"/>
<circle cx="380.75" cy="197.60" r="1.15" fill="#0d87f6"/>
<circle cx="380.75" cy="199.60" r="1.15" fill="#0d87f6"/>
<circle cx="380.75" cy="195.60" r="1.15" fill="#0d87f6"/>
<circle cx="382.94" cy="197.60" r="1.15" fill="#0d87f6"/>
<circle cx="382.94" cy="195.60" r="1.15" fill="#0d87f6"/>
<circle cx="374.00" cy="202.80" r="1.05" fill="#0d87f6"/>
<circle cx="390.92" cy="197.60" r="1.15" fill="#ff0052"/>
<circle cx="392.49" cy="197.60" r="1.15" fill="#ff0052"/>
<circle cx="392.49" cy="199.60" r="1.15" fill="#ff0052"/>
<circle cx="392.49" cy="195.60" r="1.15" fill="#ff0052"/>
<circle cx="394.47" cy="197.60" r="1.15" fill="#ff0052"/>
<circle cx="394.47" cy="199.60" r="1.15" fill="#ff0052"/>
<circle cx="394.47" cy="195.60" r="1.15" fill="#ff0052"/>
<circle cx="394.47" cy="201.60" r="1.15" fill="#ff0052"/>
<circle cx="396.09" cy="197.60" r="1.15" fill="#ff0052"/>
<circle cx="396.09" cy="195.60" r="1.15" fill="#ff0052"/>
<circle cx="396.09" cy="199.60" r="1.15" fill="#ff0052"/>
<circle cx="396.09" cy="193.60" r="1.15" fill="#ff0052"/>
<circle cx="396.09" cy="201.60" r="1.15" fill="#ff0052"/>
<circle cx="397.98" cy="197.60" r="1.15" fill="#ff0052"/>
<circle cx="397.98" cy="199.60" r="1.15" fill="#ff0052"/>
<circle cx="397.98" cy="195.60" r="1.15" fill="#ff0052"/>
<circle cx="397.98" cy="201.60" r="1.15" fill="#ff0052"/>
<circle cx="397.98" cy="193.60" r="1.15" fill="#ff0052"/>
<circle cx="397.98" cy="203.60" r="1.15" fill="#ff0052"/>
<circle cx="399.75" cy="197.60" r="1.15" fill="#ff0052"/>
<circle cx="399.75" cy="195.60" r="1.15" fill="#ff0052"/>
<circle cx="399.75" cy="199.60" r="1.15" fill="#ff0052"/>
<circle cx="399.75" cy="193.60" r="1.15" fill="#ff0052"/>
<circle cx="399.75" cy="201.60" r="1.15" fill="#ff0052"/>
<circle cx="399.75" cy="191.60" r="1.15" fill="#ff0052"/>
<circle cx="401.70" cy="197.60" r="1.15" fill="#ff0052"/>
<circle cx="401.70" cy="195.60" r="1.15" fill="#ff0052"/>
<circle cx="401.70" cy="199.60" r="1.15" fill="#ff0052"/>
<circle cx="401.70" cy="193.60" r="1.15" fill="#ff0052"/>
<circle cx="401.70" cy="201.60" r="1.15" fill="#ff0052"/>
<circle cx="403.38" cy="197.60" r="1.15" fill="#ff0052"/>
<circle cx="403.38" cy="199.60" r="1.15" fill="#ff0052"/>
<circle cx="403.38" cy="195.60" r="1.15" fill="#ff0052"/>
<circle cx="405.08" cy="197.60" r="1.15" fill="#ff0052"/>
<circle cx="405.08" cy="195.60" r="1.15" fill="#ff0052"/>
<text x="359.70" y="251.60" font-size="10.2" text-anchor="middle" fill="#111" stroke="#111" stroke-width="0.12" font-family="Liberation Serif">(<tspan font-weight="bold">b</tspan>)</text>
<text x="191.90" y="283.50" font-size="7.95" text-anchor="end" fill="#202020" stroke="#202020" stroke-width="0.07">Porosity</text>
<text x="191.90" y="306.38" font-size="7.95" text-anchor="end" fill="#202020" stroke="#202020" stroke-width="0.07">Void_ratio</text>
<text x="191.90" y="329.26" font-size="7.95" text-anchor="end" fill="#202020" stroke="#202020" stroke-width="0.07">Particle_size_d90</text>
<text x="191.90" y="352.14" font-size="7.95" text-anchor="end" fill="#202020" stroke="#202020" stroke-width="0.07">Particle_size_d30</text>
<text x="191.90" y="375.02" font-size="7.95" text-anchor="end" fill="#202020" stroke="#202020" stroke-width="0.07">Dry_density</text>
<text x="191.90" y="393.10" font-size="7.95" text-anchor="end" fill="#202020" stroke="#202020" stroke-width="0.07">Compaction_energy_T</text>
<text x="191.90" y="401.40" font-size="7.95" text-anchor="end" fill="#202020" stroke="#202020" stroke-width="0.07" font-style="italic">Control</text>
<text x="191.90" y="415.98" font-size="7.95" text-anchor="end" fill="#202020" stroke="#202020" stroke-width="0.07">Compaction_energy_T</text>
<text x="191.90" y="424.28" font-size="7.95" text-anchor="end" fill="#202020" stroke="#202020" stroke-width="0.07" font-style="italic">Ec</text>
<text x="191.90" y="443.66" font-size="7.95" text-anchor="end" fill="#202020" stroke="#202020" stroke-width="0.07">Particle_size_d60</text>
<text x="191.90" y="466.54" font-size="7.95" text-anchor="end" fill="#202020" stroke="#202020" stroke-width="0.07">Compaction_energy</text>
<text x="191.90" y="489.42" font-size="7.95" text-anchor="end" fill="#202020" stroke="#202020" stroke-width="0.07">Particle_size_d20</text>
<line x1="265.4" y1="268.7" x2="265.4" y2="498.5" stroke="#c8c8c8" stroke-width="1"/>
<line x1="196.8" y1="499.4" x2="334.6" y2="499.4" stroke="#a4a4a4" stroke-width="1.5"/>
<line x1="208.40" y1="499.4" x2="208.40" y2="502.0" stroke="#555" stroke-width="0.7"/>
<text x="208.40" y="508.70" font-size="6.3" text-anchor="middle" fill="#333">-2</text>
<line x1="236.84" y1="499.4" x2="236.84" y2="502.0" stroke="#555" stroke-width="0.7"/>
<text x="236.84" y="508.70" font-size="6.3" text-anchor="middle" fill="#333">-1</text>
<line x1="265.28" y1="499.4" x2="265.28" y2="502.0" stroke="#555" stroke-width="0.7"/>
<text x="265.28" y="508.70" font-size="6.3" text-anchor="middle" fill="#333">0</text>
<line x1="293.72" y1="499.4" x2="293.72" y2="502.0" stroke="#555" stroke-width="0.7"/>
<text x="293.72" y="508.70" font-size="6.3" text-anchor="middle" fill="#333">1</text>
<line x1="322.16" y1="499.4" x2="322.16" y2="502.0" stroke="#555" stroke-width="0.7"/>
<text x="322.16" y="508.70" font-size="6.3" text-anchor="middle" fill="#333">2</text>
<text x="264.20" y="519.60" font-size="7.3" text-anchor="middle" fill="#333" stroke="#333" stroke-width="0.05">Impact on model output</text>
<rect x="339" y="269" width="3" height="66.5" fill="url(#cb)"/>
<text x="343.10" y="276.10" font-size="7" text-anchor="start" fill="#202020" stroke="#202020" stroke-width="0.07">High</text>
<text x="343.10" y="334.90" font-size="7" text-anchor="start" fill="#202020" stroke="#202020" stroke-width="0.07">Low</text>
<text x="0" y="0" font-size="6.61" text-anchor="middle" fill="#222" stroke="#222" stroke-width="0.1" transform="translate(350.0,302) rotate(-90)">Feature value</text>
<rect x="198.60" y="273.40" width="2.8" height="14.30" rx="1.4" fill="#0a8af8"/>
<rect x="211.00" y="275.50" width="2.8" height="11.00" rx="1.4" fill="#0d87f6"/>
<rect x="233.20" y="272.30" width="2.8" height="17.20" rx="1.4" fill="#4753c3"/>
<rect x="235.20" y="272.30" width="2.8" height="15.70" rx="1.4" fill="#4753c3"/>
<rect x="292.20" y="272.40" width="2.8" height="17.70" rx="1.4" fill="#d70e62"/>
<rect x="300.00" y="273.10" width="2.8" height="15.60" rx="1.4" fill="#eb075a"/>
<rect x="305.80" y="272.40" width="2.8" height="17.40" rx="1.4" fill="#ff0052"/>
<rect x="308.50" y="274.60" width="2.8" height="12.80" rx="1.4" fill="#ff0052"/>
<rect x="235.60" y="295.20" width="2.8" height="17.80" rx="1.4" fill="#ff0052"/>
<rect x="237.20" y="296.00" width="2.8" height="16.00" rx="1.4" fill="#ff0052"/>
<rect x="242.40" y="296.30" width="2.8" height="15.20" rx="1.4" fill="#f50456"/>
<rect x="248.80" y="296.00" width="2.8" height="17.00" rx="1.4" fill="#db0d60"/>
<rect x="284.40" y="295.50" width="2.8" height="16.70" rx="1.4" fill="#4157c9"/>
<rect x="295.60" y="298.70" width="2.8" height="10.80" rx="1.4" fill="#197aec"/>
<rect x="300.70" y="296.50" width="2.8" height="14.00" rx="1.4" fill="#0d87f6"/>
<rect x="236.20" y="322.10" width="2.8" height="8.40" rx="1.4" fill="#1282f2"/>
<rect x="243.90" y="318.20" width="2.8" height="16.40" rx="1.4" fill="#2470e3"/>
<rect x="259.00" y="318.30" width="2.8" height="16.20" rx="1.4" fill="#5f41b0"/>
<rect x="281.10" y="323.60" width="2.8" height="6.50" rx="1.4" fill="#ab1c75"/>
<rect x="296.00" y="317.40" width="2.8" height="18.60" rx="1.4" fill="#ff0052"/>
<rect x="239.90" y="340.90" width="2.8" height="18.30" rx="1.4" fill="#ff0052"/>
<rect x="254.30" y="346.40" width="2.8" height="6.40" rx="1.4" fill="#ab1c75"/>
<rect x="263.90" y="344.30" width="2.8" height="10.70" rx="1.4" fill="#5f41b0"/>
<rect x="275.80" y="341.40" width="2.8" height="16.60" rx="1.4" fill="#2470e3"/>
<rect x="281.70" y="344.60" width="2.8" height="9.70" rx="1.4" fill="#1282f2"/>
<rect x="255.00" y="364.50" width="2.8" height="17.20" rx="1.4" fill="#167dee"/>
<rect x="256.60" y="364.30" width="2.8" height="17.40" rx="1.4" fill="#197aec"/>
<rect x="258.20" y="364.20" width="2.8" height="17.50" rx="1.4" fill="#2470e3"/>
<rect x="269.70" y="364.20" width="2.8" height="17.20" rx="1.4" fill="#ab1c75"/>
<rect x="275.80" y="365.40" width="2.8" height="14.10" rx="1.4" fill="#ff0052"/>
<rect x="256.90" y="385.40" width="2.8" height="20.10" rx="1.4" fill="#ff0052"/>
<rect x="271.60" y="386.20" width="2.8" height="17.80" rx="1.4" fill="#0d87f6"/>
<rect x="260.50" y="408.50" width="2.8" height="19.20" rx="1.4" fill="#0d87f6"/>
<rect x="274.30" y="414.00" width="2.8" height="8.50" rx="1.4" fill="#ff0052"/>
<rect x="260.30" y="431.90" width="2.8" height="18.80" rx="1.4" fill="#ff0052"/>
<rect x="262.20" y="433.00" width="2.8" height="16.00" rx="1.4" fill="#d70e62"/>
<rect x="266.90" y="436.00" width="2.8" height="11.00" rx="1.4" fill="#1e76e8"/>
<rect x="268.60" y="437.00" width="2.8" height="9.00" rx="1.4" fill="#3066da"/>
<rect x="262.40" y="454.50" width="2.8" height="19.20" rx="1.4" fill="#1282f2"/>
<rect x="263.20" y="460.00" width="2.8" height="8.00" rx="1.4" fill="#4a50c0"/>
<rect x="267.50" y="458.90" width="2.8" height="10.40" rx="1.4" fill="#ff0052"/>
<rect x="263.00" y="478.90" width="2.8" height="17.10" rx="1.4" fill="#4157c9"/>
<rect x="266.00" y="478.20" width="2.8" height="18.50" rx="1.4" fill="#ff0052"/>
<text x="235.00" y="545.60" font-size="10.2" text-anchor="middle" fill="#111" stroke="#111" stroke-width="0.12" font-family="Liberation Serif">(<tspan font-weight="bold">c</tspan>)</text>
</svg></body></html>
